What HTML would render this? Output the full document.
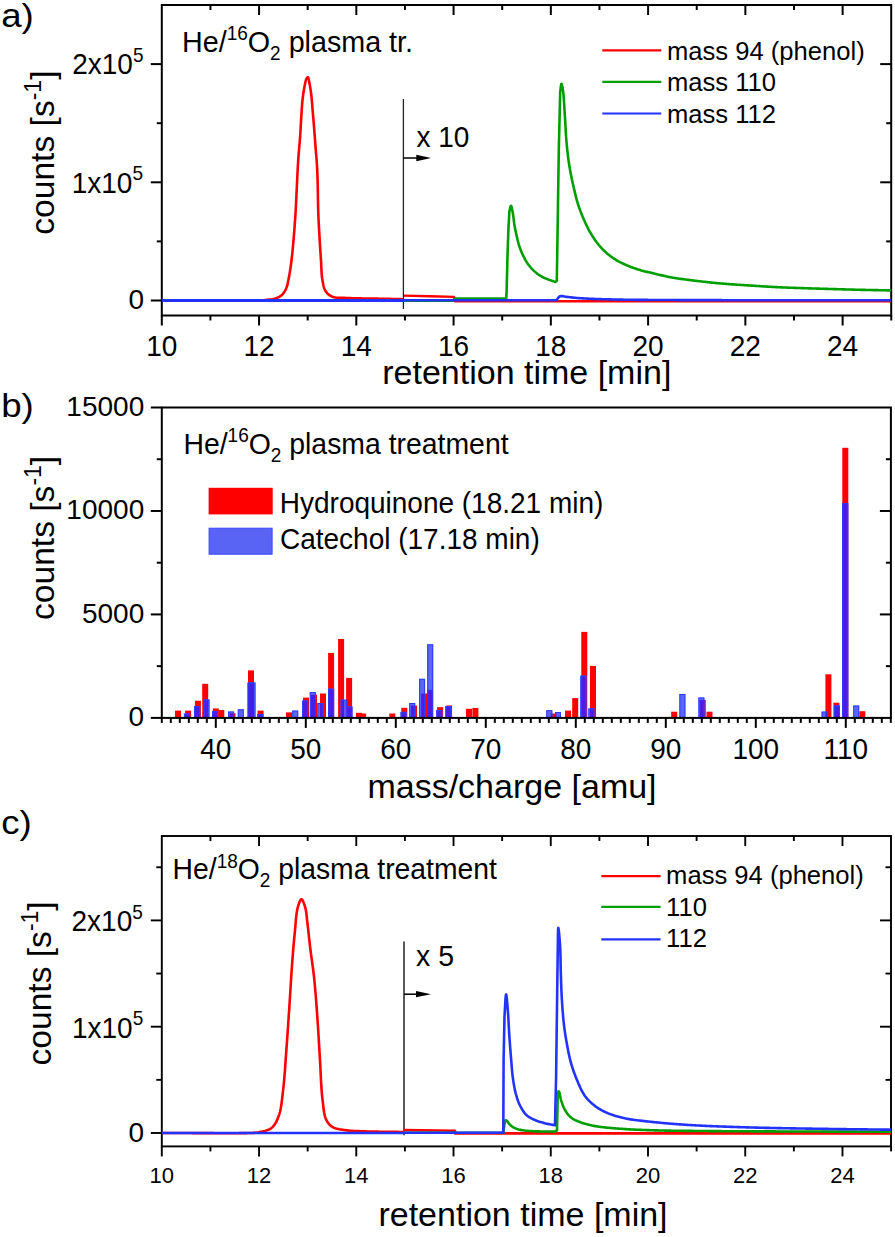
<!DOCTYPE html>
<html><head><meta charset="utf-8"><style>
html,body{margin:0;padding:0;background:#fff;overflow:hidden;}
svg{display:block;font-family:"Liberation Sans", sans-serif;}
</style></head><body>
<svg width="895" height="1237" viewBox="0 0 895 1237" font-family='"Liberation Sans", sans-serif'>
<line x1="161.80" y1="315.50" x2="161.80" y2="325.50" stroke="#000" stroke-width="2"/>
<line x1="210.43" y1="315.50" x2="210.43" y2="320.50" stroke="#000" stroke-width="2"/>
<line x1="210.43" y1="5.00" x2="210.43" y2="10.00" stroke="#000" stroke-width="2"/>
<line x1="259.06" y1="315.50" x2="259.06" y2="325.50" stroke="#000" stroke-width="2"/>
<line x1="259.06" y1="5.00" x2="259.06" y2="15.00" stroke="#000" stroke-width="2"/>
<line x1="307.69" y1="315.50" x2="307.69" y2="320.50" stroke="#000" stroke-width="2"/>
<line x1="307.69" y1="5.00" x2="307.69" y2="10.00" stroke="#000" stroke-width="2"/>
<line x1="356.32" y1="315.50" x2="356.32" y2="325.50" stroke="#000" stroke-width="2"/>
<line x1="356.32" y1="5.00" x2="356.32" y2="15.00" stroke="#000" stroke-width="2"/>
<line x1="404.95" y1="315.50" x2="404.95" y2="320.50" stroke="#000" stroke-width="2"/>
<line x1="404.95" y1="5.00" x2="404.95" y2="10.00" stroke="#000" stroke-width="2"/>
<line x1="453.58" y1="315.50" x2="453.58" y2="325.50" stroke="#000" stroke-width="2"/>
<line x1="453.58" y1="5.00" x2="453.58" y2="15.00" stroke="#000" stroke-width="2"/>
<line x1="502.21" y1="315.50" x2="502.21" y2="320.50" stroke="#000" stroke-width="2"/>
<line x1="502.21" y1="5.00" x2="502.21" y2="10.00" stroke="#000" stroke-width="2"/>
<line x1="550.84" y1="315.50" x2="550.84" y2="325.50" stroke="#000" stroke-width="2"/>
<line x1="550.84" y1="5.00" x2="550.84" y2="15.00" stroke="#000" stroke-width="2"/>
<line x1="599.47" y1="315.50" x2="599.47" y2="320.50" stroke="#000" stroke-width="2"/>
<line x1="599.47" y1="5.00" x2="599.47" y2="10.00" stroke="#000" stroke-width="2"/>
<line x1="648.10" y1="315.50" x2="648.10" y2="325.50" stroke="#000" stroke-width="2"/>
<line x1="648.10" y1="5.00" x2="648.10" y2="15.00" stroke="#000" stroke-width="2"/>
<line x1="696.73" y1="315.50" x2="696.73" y2="320.50" stroke="#000" stroke-width="2"/>
<line x1="696.73" y1="5.00" x2="696.73" y2="10.00" stroke="#000" stroke-width="2"/>
<line x1="745.36" y1="315.50" x2="745.36" y2="325.50" stroke="#000" stroke-width="2"/>
<line x1="745.36" y1="5.00" x2="745.36" y2="15.00" stroke="#000" stroke-width="2"/>
<line x1="793.99" y1="315.50" x2="793.99" y2="320.50" stroke="#000" stroke-width="2"/>
<line x1="793.99" y1="5.00" x2="793.99" y2="10.00" stroke="#000" stroke-width="2"/>
<line x1="842.62" y1="315.50" x2="842.62" y2="325.50" stroke="#000" stroke-width="2"/>
<line x1="842.62" y1="5.00" x2="842.62" y2="15.00" stroke="#000" stroke-width="2"/>
<line x1="891.25" y1="315.50" x2="891.25" y2="320.50" stroke="#000" stroke-width="2"/>
<line x1="150.80" y1="300.50" x2="161.80" y2="300.50" stroke="#000" stroke-width="2"/>
<line x1="891.20" y1="300.50" x2="880.20" y2="300.50" stroke="#000" stroke-width="2"/>
<line x1="156.80" y1="241.40" x2="161.80" y2="241.40" stroke="#000" stroke-width="2"/>
<line x1="891.20" y1="241.40" x2="886.20" y2="241.40" stroke="#000" stroke-width="2"/>
<line x1="150.80" y1="182.30" x2="161.80" y2="182.30" stroke="#000" stroke-width="2"/>
<line x1="891.20" y1="182.30" x2="880.20" y2="182.30" stroke="#000" stroke-width="2"/>
<line x1="156.80" y1="123.20" x2="161.80" y2="123.20" stroke="#000" stroke-width="2"/>
<line x1="891.20" y1="123.20" x2="886.20" y2="123.20" stroke="#000" stroke-width="2"/>
<line x1="150.80" y1="64.10" x2="161.80" y2="64.10" stroke="#000" stroke-width="2"/>
<line x1="891.20" y1="64.10" x2="880.20" y2="64.10" stroke="#000" stroke-width="2"/>
<rect x="161.8" y="5.0" width="729.4000000000001" height="310.5" fill="none" stroke="#000" stroke-width="2"/>
<text transform="translate(161.80,355.80) scale(1.0,1.06)" font-size="28" text-anchor="middle" >10</text>
<text transform="translate(259.06,355.80) scale(1.0,1.06)" font-size="28" text-anchor="middle" >12</text>
<text transform="translate(356.32,355.80) scale(1.0,1.06)" font-size="28" text-anchor="middle" >14</text>
<text transform="translate(453.58,355.80) scale(1.0,1.06)" font-size="28" text-anchor="middle" >16</text>
<text transform="translate(550.84,355.80) scale(1.0,1.06)" font-size="28" text-anchor="middle" >18</text>
<text transform="translate(648.10,355.80) scale(1.0,1.06)" font-size="28" text-anchor="middle" >20</text>
<text transform="translate(745.36,355.80) scale(1.0,1.06)" font-size="28" text-anchor="middle" >22</text>
<text transform="translate(842.62,355.80) scale(1.0,1.06)" font-size="28" text-anchor="middle" >24</text>
<text transform="translate(144.10,308.80) scale(1.0,1.02)" font-size="28" text-anchor="end" >0</text>
<text transform="translate(143.00,192.50) scale(1,1.03)" font-size="28" text-anchor="end">1x10<tspan font-size="19" dy="-12.3">5</tspan></text>
<text transform="translate(143.50,74.30) scale(1,1.03)" font-size="28" text-anchor="end">2x10<tspan font-size="19" dy="-12.3">5</tspan></text>
<text x="526.80" y="383.50" font-size="34" text-anchor="middle" >retention time [min]</text>
<text transform="translate(54.0,152.6) rotate(-90)" font-size="33.6" text-anchor="middle">counts [s<tspan font-size="23" dy="-13.3">-1</tspan><tspan dy="13.3">]</tspan></text>
<text transform="translate(1.20,27.00) scale(1.11,1.0)" font-size="33" text-anchor="start" >a)</text>
<text transform="translate(182.00,51.80) scale(1,1.06)" font-size="28.7">He/<tspan font-size="19" dy="-11.0">16</tspan><tspan dy="11.0">O</tspan><tspan font-size="19" dy="7.5">2</tspan><tspan dy="-7.5"> plasma tr.</tspan></text>
<line x1="602.30" y1="50.30" x2="661.30" y2="50.30" stroke="#ff0000" stroke-width="2.2"/>
<text transform="translate(667.00,59.50) scale(1.0,1.03)" font-size="25.6" text-anchor="start" >mass 94 (phenol)</text>
<line x1="602.30" y1="81.90" x2="661.30" y2="81.90" stroke="#009e00" stroke-width="2.2"/>
<text transform="translate(667.00,91.00) scale(1.0,1.03)" font-size="25.6" text-anchor="start" >mass 110</text>
<line x1="602.30" y1="113.50" x2="661.30" y2="113.50" stroke="#2233ff" stroke-width="2.2"/>
<text transform="translate(667.00,122.50) scale(1.0,1.03)" font-size="25.6" text-anchor="start" >mass 112</text>
<line x1="403.40" y1="99.00" x2="403.40" y2="309.00" stroke="#222" stroke-width="1.3"/>
<line x1="403.40" y1="158.00" x2="418.00" y2="158.00" stroke="#000" stroke-width="1.5"/>
<path d="M416.3,154.8 L431,158 L416.3,161.2 Z" fill="#000"/>
<text transform="translate(416.40,146.60) scale(1.0,1.05)" font-size="28" text-anchor="start" >x 10</text>
<path d="M162.00,300.50 L163.01,300.50 L164.03,300.50 L165.06,300.50 L166.10,300.50 L167.15,300.50 L168.22,300.50 L169.29,300.50 L170.38,300.50 L171.47,300.51 L172.58,300.51 L173.69,300.51 L174.82,300.52 L175.95,300.52 L177.09,300.52 L178.23,300.53 L179.38,300.53 L180.54,300.54 L181.71,300.54 L182.88,300.54 L184.06,300.55 L185.24,300.56 L186.43,300.56 L187.62,300.57 L188.82,300.57 L190.02,300.58 L191.22,300.58 L192.43,300.59 L193.63,300.60 L194.84,300.60 L196.06,300.61 L197.27,300.61 L198.48,300.62 L199.70,300.63 L200.91,300.63 L202.13,300.64 L203.34,300.64 L204.55,300.65 L205.76,300.66 L206.97,300.66 L208.18,300.67 L209.39,300.68 L210.59,300.68 L211.79,300.69 L212.98,300.69 L214.17,300.70 L215.36,300.70 L216.54,300.71 L217.71,300.71 L218.88,300.72 L220.05,300.72 L221.21,300.73 L222.36,300.73 L223.50,300.74 L224.64,300.74 L225.77,300.74 L226.89,300.75 L228.00,300.75 L229.10,300.75 L230.19,300.75 L231.27,300.75 L232.34,300.76 L233.41,300.76 L234.46,300.76 L235.49,300.76 L236.52,300.76 L237.54,300.76 L238.54,300.76 L239.53,300.75 L240.50,300.75 L241.47,300.75 L242.41,300.75 L243.35,300.74 L244.26,300.74 L245.17,300.74 L246.06,300.73 L246.93,300.73 L247.78,300.72 L248.62,300.71 L249.44,300.71 L250.24,300.70 L251.03,300.69 L251.79,300.68 L252.54,300.67 L253.27,300.66 L253.98,300.65 L254.67,300.64 L255.34,300.63 L255.98,300.61 L256.61,300.60 L257.22,300.59 L257.80,300.57 L258.36,300.56 L258.90,300.54 L259.41,300.52 L259.91,300.50 L260.37,300.48 L260.82,300.46 L261.24,300.44 L261.63,300.42 L262.00,300.40 L263.58,300.27 L264.65,300.13 L265.58,299.97 L266.70,299.80 L267.61,299.70 L268.58,299.61 L269.59,299.52 L270.63,299.42 L271.68,299.31 L272.72,299.15 L273.73,298.96 L274.70,298.70 L275.74,298.36 L276.78,297.98 L277.80,297.56 L278.80,297.09 L279.75,296.56 L280.66,295.96 L281.50,295.30 L282.21,294.63 L282.87,293.91 L283.50,293.13 L284.09,292.30 L284.64,291.42 L285.16,290.51 L285.64,289.57 L286.10,288.60 L286.45,287.75 L286.77,286.88 L287.06,285.98 L287.31,285.05 L287.55,284.10 L287.77,283.12 L287.98,282.12 L288.18,281.10 L288.38,280.05 L288.58,278.99 L288.80,277.90 L288.98,276.99 L289.16,276.05 L289.33,275.09 L289.51,274.11 L289.68,273.12 L289.84,272.10 L290.01,271.07 L290.17,270.03 L290.33,268.98 L290.49,267.92 L290.64,266.85 L290.79,265.78 L290.94,264.70 L291.08,263.62 L291.22,262.54 L291.36,261.47 L291.50,260.40 L291.62,259.43 L291.74,258.46 L291.85,257.49 L291.96,256.52 L292.07,255.55 L292.17,254.57 L292.28,253.59 L292.38,252.60 L292.48,251.62 L292.57,250.62 L292.67,249.62 L292.76,248.62 L292.85,247.61 L292.95,246.59 L293.04,245.56 L293.13,244.53 L293.22,243.49 L293.31,242.43 L293.41,241.37 L293.50,240.30 L293.58,239.34 L293.67,238.36 L293.75,237.37 L293.83,236.37 L293.92,235.37 L294.00,234.35 L294.08,233.32 L294.16,232.29 L294.25,231.25 L294.33,230.20 L294.41,229.15 L294.49,228.10 L294.57,227.04 L294.65,225.99 L294.72,224.93 L294.80,223.87 L294.88,222.81 L294.95,221.76 L295.02,220.71 L295.10,219.66 L295.17,218.61 L295.24,217.58 L295.30,216.54 L295.37,215.52 L295.44,214.51 L295.50,213.50 L295.57,212.44 L295.63,211.39 L295.69,210.34 L295.75,209.31 L295.80,208.28 L295.86,207.25 L295.91,206.23 L295.96,205.21 L296.01,204.20 L296.06,203.19 L296.11,202.17 L296.16,201.16 L296.20,200.14 L296.25,199.12 L296.30,198.10 L296.35,197.08 L296.39,196.05 L296.44,195.01 L296.49,193.97 L296.54,192.91 L296.59,191.85 L296.65,190.78 L296.70,189.70 L296.75,188.74 L296.80,187.77 L296.84,186.79 L296.89,185.81 L296.94,184.81 L296.99,183.81 L297.03,182.81 L297.08,181.80 L297.13,180.78 L297.18,179.76 L297.23,178.74 L297.27,177.72 L297.32,176.69 L297.37,175.66 L297.42,174.63 L297.47,173.60 L297.52,172.57 L297.57,171.55 L297.63,170.52 L297.68,169.50 L297.73,168.48 L297.79,167.46 L297.84,166.45 L297.90,165.44 L297.96,164.44 L298.02,163.44 L298.08,162.45 L298.14,161.47 L298.20,160.50 L298.27,159.46 L298.34,158.41 L298.42,157.37 L298.50,156.32 L298.58,155.28 L298.66,154.24 L298.74,153.20 L298.83,152.16 L298.91,151.12 L299.00,150.09 L299.09,149.06 L299.17,148.04 L299.26,147.02 L299.35,146.01 L299.43,145.00 L299.52,144.00 L299.60,143.01 L299.69,142.03 L299.77,141.05 L299.85,140.08 L299.92,139.13 L300.00,138.18 L300.07,137.24 L300.14,136.31 L300.20,135.40 L300.27,134.31 L300.34,133.25 L300.41,132.21 L300.47,131.18 L300.53,130.17 L300.58,129.18 L300.64,128.20 L300.69,127.22 L300.74,126.25 L300.79,125.28 L300.84,124.31 L300.90,123.33 L300.95,122.35 L301.01,121.36 L301.07,120.35 L301.13,119.34 L301.20,118.30 L301.26,117.33 L301.33,116.34 L301.39,115.33 L301.45,114.31 L301.52,113.29 L301.58,112.25 L301.65,111.21 L301.71,110.17 L301.78,109.12 L301.85,108.08 L301.92,107.04 L301.99,106.00 L302.07,104.98 L302.15,103.96 L302.23,102.96 L302.32,101.97 L302.41,100.99 L302.50,100.04 L302.60,99.11 L302.70,98.20 L302.84,97.08 L302.98,95.98 L303.13,94.88 L303.28,93.79 L303.44,92.72 L303.61,91.67 L303.78,90.64 L303.95,89.63 L304.12,88.66 L304.29,87.71 L304.46,86.80 L304.63,85.93 L304.80,85.10 L305.03,83.92 L305.26,82.79 L305.48,81.72 L305.72,80.74 L305.99,79.86 L306.30,79.10 L307.04,77.79 L307.80,77.20 L308.10,77.48 L308.38,78.11 L308.65,79.04 L308.90,80.17 L309.14,81.42 L309.37,82.71 L309.59,83.96 L309.80,85.10 L309.98,86.04 L310.15,86.98 L310.32,87.92 L310.47,88.88 L310.62,89.85 L310.76,90.84 L310.90,91.86 L311.03,92.91 L311.17,93.98 L311.30,95.10 L311.40,95.99 L311.50,96.90 L311.60,97.84 L311.69,98.80 L311.78,99.78 L311.87,100.78 L311.96,101.79 L312.04,102.81 L312.13,103.85 L312.21,104.89 L312.29,105.94 L312.38,106.99 L312.46,108.05 L312.54,109.09 L312.63,110.14 L312.71,111.17 L312.80,112.20 L312.88,113.19 L312.97,114.18 L313.05,115.18 L313.14,116.17 L313.22,117.16 L313.31,118.16 L313.39,119.16 L313.47,120.16 L313.56,121.16 L313.64,122.16 L313.72,123.17 L313.81,124.18 L313.89,125.19 L313.97,126.20 L314.05,127.22 L314.14,128.24 L314.22,129.27 L314.30,130.30 L314.38,131.29 L314.45,132.29 L314.53,133.31 L314.61,134.33 L314.69,135.37 L314.76,136.41 L314.84,137.46 L314.92,138.51 L314.99,139.56 L315.07,140.60 L315.15,141.64 L315.22,142.67 L315.30,143.70 L315.37,144.71 L315.44,145.71 L315.52,146.69 L315.59,147.65 L315.66,148.59 L315.73,149.51 L315.80,150.40 L315.89,151.51 L315.98,152.57 L316.07,153.59 L316.16,154.58 L316.24,155.54 L316.33,156.50 L316.41,157.45 L316.49,158.41 L316.57,159.39 L316.65,160.39 L316.73,161.42 L316.80,162.50 L316.86,163.44 L316.92,164.38 L316.97,165.32 L317.02,166.28 L317.07,167.24 L317.12,168.21 L317.17,169.19 L317.22,170.19 L317.27,171.20 L317.31,172.23 L317.35,173.28 L317.40,174.34 L317.44,175.43 L317.48,176.53 L317.52,177.66 L317.56,178.82 L317.60,180.00 L317.63,180.86 L317.65,181.75 L317.68,182.65 L317.70,183.58 L317.72,184.52 L317.74,185.48 L317.76,186.46 L317.78,187.45 L317.80,188.46 L317.82,189.48 L317.83,190.51 L317.85,191.55 L317.87,192.59 L317.88,193.65 L317.90,194.71 L317.91,195.78 L317.93,196.85 L317.95,197.92 L317.96,198.99 L317.98,200.07 L318.00,201.14 L318.02,202.21 L318.04,203.28 L318.06,204.34 L318.08,205.40 L318.10,206.45 L318.12,207.49 L318.15,208.52 L318.18,209.55 L318.20,210.55 L318.23,211.55 L318.27,212.53 L318.30,213.50 L318.34,214.59 L318.38,215.67 L318.43,216.75 L318.47,217.83 L318.52,218.90 L318.57,219.97 L318.62,221.03 L318.67,222.09 L318.73,223.15 L318.78,224.20 L318.84,225.25 L318.89,226.29 L318.95,227.33 L319.00,228.36 L319.06,229.39 L319.12,230.41 L319.18,231.43 L319.24,232.44 L319.30,233.44 L319.35,234.44 L319.41,235.43 L319.47,236.42 L319.53,237.40 L319.59,238.37 L319.64,239.34 L319.70,240.30 L319.76,241.37 L319.83,242.43 L319.89,243.48 L319.95,244.52 L320.02,245.54 L320.08,246.56 L320.15,247.58 L320.21,248.58 L320.28,249.58 L320.34,250.57 L320.41,251.56 L320.47,252.55 L320.54,253.53 L320.60,254.51 L320.67,255.49 L320.74,256.47 L320.80,257.45 L320.87,258.43 L320.93,259.41 L321.00,260.40 L321.07,261.47 L321.13,262.54 L321.18,263.62 L321.23,264.70 L321.27,265.79 L321.31,266.88 L321.36,267.96 L321.40,269.04 L321.45,270.11 L321.50,271.18 L321.56,272.24 L321.63,273.28 L321.71,274.31 L321.80,275.33 L321.90,276.33 L322.02,277.31 L322.15,278.27 L322.30,279.20 L322.49,280.33 L322.69,281.46 L322.88,282.57 L323.09,283.68 L323.31,284.76 L323.55,285.81 L323.81,286.84 L324.11,287.83 L324.44,288.77 L324.81,289.67 L325.23,290.51 L325.70,291.30 L326.34,292.20 L327.04,293.03 L327.78,293.80 L328.58,294.50 L329.44,295.14 L330.37,295.72 L331.35,296.24 L332.40,296.70 L333.23,297.00 L334.11,297.24 L335.02,297.43 L335.96,297.57 L336.94,297.68 L337.96,297.75 L339.01,297.80 L340.09,297.83 L341.20,297.85 L342.35,297.87 L343.52,297.88 L344.72,297.91 L345.95,297.94 L347.20,298.00 L348.04,298.04 L348.91,298.08 L349.80,298.12 L350.72,298.16 L351.67,298.19 L352.63,298.22 L353.62,298.25 L354.63,298.28 L355.65,298.31 L356.69,298.33 L357.74,298.35 L358.81,298.38 L359.88,298.40 L360.97,298.41 L362.06,298.43 L363.16,298.45 L364.25,298.47 L365.36,298.48 L366.46,298.50 L367.56,298.51 L368.65,298.52 L369.75,298.54 L370.83,298.55 L371.91,298.57 L372.97,298.58 L374.02,298.60 L375.06,298.61 L376.09,298.63 L377.10,298.64 L378.09,298.66 L379.05,298.68 L380.00,298.70 L381.08,298.72 L382.15,298.75 L383.20,298.77 L384.24,298.79 L385.27,298.81 L386.29,298.84 L387.30,298.86 L388.30,298.88 L389.30,298.90 L390.28,298.92 L391.27,298.94 L392.24,298.97 L393.22,298.99 L394.19,299.01 L395.16,299.03 L396.13,299.05 L397.10,299.07 L398.08,299.09 L399.05,299.11 L400.03,299.14 L401.01,299.16 L402.00,299.18 L403.00,299.20" fill="none" stroke="#ff0000" stroke-width="2.6" stroke-linejoin="round" stroke-linecap="butt" />
<path d="M404.00,295.60 L430.00,296.20 L454.00,296.90 L455.00,301.30 L891.00,301.30" fill="none" stroke="#ff0000" stroke-width="2.4" stroke-linejoin="round" stroke-linecap="butt" />
<path d="M404.00,300.60 L453.00,300.60 L455.00,298.60 L506.20,298.30 L506.60,292.30 L507.50,255.10 L508.50,227.20 L509.40,211.40 L509.72,210.10 L510.04,208.62 L510.36,207.23 L510.68,206.20 L511.00,205.80 L511.29,206.11 L511.58,206.92 L511.87,208.09 L512.16,209.48 L512.44,210.93 L512.70,212.30 L512.86,213.15 L513.01,214.06 L513.15,215.01 L513.28,216.00 L513.41,217.01 L513.54,218.05 L513.66,219.11 L513.79,220.17 L513.92,221.23 L514.05,222.28 L514.19,223.31 L514.34,224.32 L514.50,225.30 L514.69,226.36 L514.88,227.41 L515.08,228.45 L515.28,229.49 L515.49,230.51 L515.70,231.53 L515.91,232.55 L516.13,233.55 L516.35,234.54 L516.58,235.53 L516.80,236.50 L517.05,237.57 L517.29,238.63 L517.53,239.68 L517.78,240.71 L518.03,241.73 L518.30,242.75 L518.58,243.76 L518.88,244.78 L519.20,245.80 L519.51,246.74 L519.84,247.69 L520.18,248.63 L520.54,249.57 L520.91,250.51 L521.28,251.45 L521.67,252.37 L522.07,253.29 L522.48,254.20 L522.90,255.10 L523.36,256.06 L523.82,257.01 L524.30,257.96 L524.78,258.89 L525.28,259.82 L525.80,260.73 L526.34,261.63 L526.91,262.52 L527.50,263.40 L528.14,264.29 L528.80,265.17 L529.49,266.04 L530.20,266.90 L530.93,267.74 L531.67,268.57 L532.44,269.37 L533.21,270.15 L534.00,270.90 L534.78,271.61 L535.58,272.30 L536.40,272.97 L537.23,273.63 L538.07,274.26 L538.92,274.86 L539.78,275.44 L540.64,275.98 L541.50,276.50 L542.41,277.00 L543.33,277.45 L544.26,277.87 L545.20,278.27 L546.13,278.64 L547.07,279.00 L547.99,279.35 L548.90,279.70 L550.00,280.12 L551.09,280.51 L552.17,280.89 L553.25,281.26 L554.32,281.62 L555.40,282.00 L556.80,281.00 L557.60,230.00 L558.80,150.00 L560.20,92.00 L560.36,90.88 L560.52,89.60 L560.67,88.26 L560.83,86.94 L560.98,85.76 L561.15,84.79 L561.32,84.14 L561.50,83.90 L561.74,84.17 L561.99,84.93 L562.25,86.05 L562.52,87.42 L562.77,88.91 L563.00,90.40 L563.10,91.09 L563.19,91.83 L563.28,92.61 L563.37,93.44 L563.46,94.30 L563.54,95.21 L563.62,96.14 L563.69,97.11 L563.77,98.10 L563.84,99.12 L563.91,100.16 L563.98,101.22 L564.05,102.30 L564.11,103.39 L564.18,104.49 L564.25,105.60 L564.31,106.72 L564.37,107.83 L564.44,108.95 L564.50,110.06 L564.57,111.17 L564.63,112.26 L564.70,113.35 L564.76,114.42 L564.83,115.47 L564.90,116.50 L564.97,117.52 L565.04,118.54 L565.10,119.57 L565.16,120.60 L565.22,121.64 L565.28,122.68 L565.34,123.72 L565.40,124.77 L565.46,125.81 L565.52,126.86 L565.58,127.91 L565.64,128.96 L565.69,130.01 L565.75,131.06 L565.81,132.11 L565.88,133.15 L565.94,134.19 L566.00,135.23 L566.07,136.26 L566.14,137.29 L566.21,138.31 L566.28,139.33 L566.36,140.34 L566.44,141.34 L566.52,142.34 L566.61,143.32 L566.70,144.30 L566.80,145.37 L566.91,146.44 L567.01,147.50 L567.12,148.55 L567.23,149.60 L567.35,150.65 L567.46,151.69 L567.58,152.72 L567.70,153.75 L567.82,154.78 L567.95,155.80 L568.08,156.81 L568.21,157.82 L568.34,158.83 L568.47,159.83 L568.61,160.82 L568.75,161.81 L568.90,162.80 L569.04,163.78 L569.19,164.76 L569.34,165.73 L569.50,166.70 L569.68,167.77 L569.86,168.84 L570.04,169.89 L570.23,170.94 L570.42,171.98 L570.62,173.01 L570.82,174.03 L571.02,175.05 L571.22,176.07 L571.43,177.09 L571.64,178.10 L571.86,179.11 L572.07,180.12 L572.29,181.13 L572.52,182.14 L572.74,183.16 L572.97,184.18 L573.20,185.20 L573.42,186.18 L573.65,187.17 L573.87,188.16 L574.10,189.16 L574.33,190.16 L574.56,191.16 L574.80,192.16 L575.03,193.16 L575.27,194.15 L575.52,195.15 L575.76,196.14 L576.02,197.12 L576.27,198.10 L576.53,199.07 L576.79,200.04 L577.06,201.00 L577.34,201.94 L577.62,202.88 L577.90,203.80 L578.23,204.85 L578.57,205.89 L578.91,206.91 L579.26,207.92 L579.61,208.92 L579.97,209.92 L580.34,210.90 L580.71,211.88 L581.08,212.86 L581.47,213.83 L581.86,214.80 L582.26,215.77 L582.66,216.74 L583.08,217.72 L583.50,218.70 L583.91,219.64 L584.33,220.59 L584.75,221.54 L585.18,222.49 L585.62,223.44 L586.06,224.38 L586.51,225.33 L586.96,226.27 L587.43,227.21 L587.90,228.15 L588.37,229.08 L588.86,230.00 L589.36,230.91 L589.86,231.82 L590.38,232.71 L590.90,233.60 L591.46,234.52 L592.02,235.43 L592.60,236.34 L593.18,237.25 L593.77,238.14 L594.37,239.04 L594.98,239.92 L595.60,240.79 L596.23,241.66 L596.86,242.51 L597.51,243.36 L598.17,244.19 L598.84,245.01 L599.51,245.81 L600.20,246.60 L600.88,247.36 L601.56,248.10 L602.26,248.84 L602.96,249.56 L603.68,250.28 L604.40,250.99 L605.13,251.68 L605.87,252.36 L606.62,253.03 L607.38,253.69 L608.15,254.34 L608.92,254.98 L609.71,255.60 L610.50,256.21 L611.30,256.80 L612.17,257.42 L613.04,258.02 L613.93,258.60 L614.83,259.17 L615.74,259.73 L616.66,260.27 L617.59,260.79 L618.53,261.31 L619.47,261.81 L620.43,262.31 L621.39,262.79 L622.35,263.27 L623.32,263.74 L624.30,264.20 L625.25,264.64 L626.21,265.06 L627.18,265.48 L628.16,265.89 L629.14,266.29 L630.14,266.68 L631.14,267.06 L632.14,267.43 L633.15,267.79 L634.16,268.15 L635.17,268.49 L636.18,268.83 L637.19,269.16 L638.20,269.48 L639.20,269.80 L640.18,270.10 L641.17,270.38 L642.15,270.66 L643.13,270.92 L644.11,271.17 L645.10,271.41 L646.08,271.65 L647.07,271.88 L648.06,272.11 L649.06,272.34 L650.06,272.57 L651.06,272.79 L652.07,273.03 L653.08,273.26 L654.10,273.50 L655.05,273.73 L656.01,273.96 L656.97,274.19 L657.94,274.43 L658.91,274.66 L659.88,274.90 L660.85,275.13 L661.83,275.37 L662.82,275.60 L663.80,275.83 L664.79,276.05 L665.78,276.27 L666.78,276.49 L667.78,276.70 L668.78,276.91 L669.79,277.11 L670.80,277.30 L671.80,277.48 L672.79,277.66 L673.78,277.83 L674.77,277.99 L675.77,278.15 L676.76,278.30 L677.75,278.45 L678.75,278.59 L679.76,278.74 L680.78,278.88 L681.80,279.02 L682.84,279.15 L683.89,279.29 L684.96,279.43 L686.04,279.57 L687.14,279.71 L688.26,279.85 L689.40,280.00 L690.31,280.12 L691.23,280.23 L692.16,280.35 L693.11,280.47 L694.07,280.59 L695.04,280.71 L696.02,280.83 L697.02,280.95 L698.02,281.07 L699.03,281.19 L700.05,281.31 L701.08,281.43 L702.11,281.55 L703.15,281.67 L704.19,281.79 L705.24,281.91 L706.28,282.02 L707.34,282.14 L708.39,282.25 L709.44,282.37 L710.49,282.48 L711.54,282.59 L712.59,282.70 L713.64,282.80 L714.68,282.91 L715.72,283.01 L716.75,283.11 L717.78,283.21 L718.80,283.30 L719.82,283.39 L720.84,283.48 L721.86,283.57 L722.87,283.65 L723.89,283.74 L724.91,283.82 L725.93,283.90 L726.95,283.97 L727.97,284.05 L729.00,284.13 L730.02,284.20 L731.04,284.27 L732.06,284.34 L733.08,284.41 L734.10,284.48 L735.12,284.55 L736.14,284.61 L737.16,284.68 L738.19,284.74 L739.21,284.81 L740.23,284.88 L741.25,284.94 L742.27,285.01 L743.29,285.07 L744.32,285.14 L745.34,285.20 L746.36,285.27 L747.38,285.33 L748.40,285.40 L749.42,285.47 L750.44,285.53 L751.46,285.60 L752.48,285.67 L753.50,285.74 L754.52,285.80 L755.54,285.87 L756.56,285.94 L757.58,286.00 L758.60,286.07 L759.62,286.14 L760.64,286.20 L761.66,286.27 L762.68,286.33 L763.71,286.39 L764.73,286.46 L765.75,286.52 L766.77,286.58 L767.79,286.64 L768.81,286.70 L769.83,286.76 L770.85,286.82 L771.87,286.88 L772.89,286.93 L773.91,286.99 L774.94,287.04 L775.96,287.10 L776.98,287.15 L778.00,287.20 L779.02,287.25 L780.05,287.30 L781.07,287.34 L782.09,287.39 L783.12,287.43 L784.14,287.48 L785.17,287.52 L786.19,287.56 L787.21,287.60 L788.24,287.64 L789.26,287.68 L790.29,287.72 L791.31,287.75 L792.34,287.79 L793.36,287.82 L794.39,287.86 L795.41,287.89 L796.43,287.93 L797.46,287.96 L798.48,288.00 L799.51,288.03 L800.53,288.06 L801.56,288.10 L802.58,288.13 L803.61,288.16 L804.63,288.20 L805.65,288.23 L806.68,288.27 L807.70,288.30 L808.72,288.33 L809.75,288.37 L810.77,288.40 L811.80,288.44 L812.82,288.47 L813.85,288.50 L814.88,288.53 L815.91,288.57 L816.94,288.60 L817.97,288.63 L819.00,288.66 L820.03,288.69 L821.06,288.73 L822.08,288.76 L823.11,288.79 L824.14,288.82 L825.16,288.85 L826.19,288.88 L827.21,288.91 L828.23,288.94 L829.25,288.97 L830.26,289.00 L831.28,289.03 L832.29,289.06 L833.30,289.09 L834.30,289.11 L835.30,289.14 L836.30,289.17 L837.30,289.20 L838.35,289.23 L839.40,289.26 L840.44,289.29 L841.48,289.32 L842.52,289.35 L843.55,289.38 L844.58,289.40 L845.61,289.43 L846.64,289.46 L847.66,289.49 L848.69,289.52 L849.71,289.54 L850.73,289.57 L851.75,289.60 L852.76,289.63 L853.78,289.65 L854.80,289.68 L855.82,289.70 L856.84,289.73 L857.86,289.76 L858.88,289.78 L859.90,289.80 L860.92,289.83 L861.94,289.85 L862.97,289.88 L864.00,289.90 L865.00,289.92 L866.00,289.94 L866.99,289.96 L867.99,289.99 L868.99,290.01 L869.99,290.02 L870.99,290.04 L871.99,290.06 L872.99,290.08 L873.99,290.10 L874.99,290.12 L875.99,290.14 L876.99,290.15 L877.99,290.17 L878.99,290.19 L879.99,290.21 L880.99,290.22 L881.99,290.24 L883.00,290.26 L884.00,290.28 L885.00,290.29 L886.00,290.31 L887.00,290.33 L888.00,290.35 L889.00,290.36 L890.00,290.38 L891.00,290.40" fill="none" stroke="#009e00" stroke-width="2.6" stroke-linejoin="round" stroke-linecap="butt" />
<path d="M161.80,300.50 L404.00,300.50" fill="none" stroke="#2233ff" stroke-width="2.8" stroke-linejoin="round" stroke-linecap="butt" />
<path d="M404.00,300.30 L508.00,300.30 L556.40,300.20 L557.11,299.33 L557.79,298.39 L558.48,297.48 L559.24,296.71 L560.10,296.20 L561.11,296.00 L562.19,296.08 L563.36,296.31 L564.63,296.59 L566.00,296.80 L566.80,296.88 L567.64,296.97 L568.51,297.07 L569.41,297.17 L570.34,297.28 L571.30,297.38 L572.30,297.49 L573.32,297.60 L574.36,297.71 L575.44,297.82 L576.54,297.92 L577.67,298.02 L578.82,298.11 L580.00,298.20 L580.82,298.26 L581.65,298.31 L582.51,298.36 L583.37,298.42 L584.26,298.47 L585.15,298.51 L586.06,298.56 L586.99,298.61 L587.93,298.65 L588.88,298.70 L589.84,298.74 L590.82,298.78 L591.81,298.82 L592.80,298.86 L593.81,298.90 L594.83,298.94 L595.87,298.98 L596.91,299.01 L597.96,299.05 L599.01,299.08 L600.08,299.12 L601.16,299.15 L602.24,299.18 L603.33,299.22 L604.43,299.25 L605.53,299.28 L606.64,299.31 L607.75,299.34 L608.88,299.37 L610.00,299.40 L610.87,299.42 L611.74,299.44 L612.60,299.46 L613.46,299.49 L614.32,299.50 L615.18,299.52 L616.03,299.54 L616.89,299.56 L617.75,299.58 L618.60,299.59 L619.46,299.61 L620.32,299.63 L621.18,299.64 L622.05,299.65 L622.92,299.67 L623.79,299.68 L624.67,299.70 L625.55,299.71 L626.44,299.72 L627.33,299.73 L628.23,299.74 L629.14,299.76 L630.06,299.77 L630.99,299.78 L631.92,299.79 L632.87,299.80 L633.83,299.81 L634.79,299.82 L635.77,299.83 L636.76,299.83 L637.77,299.84 L638.78,299.85 L639.81,299.86 L640.86,299.87 L641.92,299.88 L642.99,299.89 L644.08,299.89 L645.19,299.90 L646.32,299.91 L647.46,299.92 L648.62,299.93 L649.80,299.93 L651.00,299.94 L652.22,299.95 L653.46,299.96 L654.73,299.97 L656.01,299.97 L657.32,299.98 L658.65,299.99 L660.00,300.00 L660.64,300.00 L661.28,300.01 L661.93,300.01 L662.59,300.02 L663.25,300.02 L663.92,300.02 L664.60,300.03 L665.28,300.03 L665.97,300.03 L666.66,300.04 L667.36,300.04 L668.06,300.05 L668.77,300.05 L669.49,300.05 L670.21,300.06 L670.94,300.06 L671.68,300.06 L672.41,300.06 L673.16,300.07 L673.91,300.07 L674.67,300.07 L675.43,300.08 L676.19,300.08 L676.97,300.08 L677.74,300.09 L678.53,300.09 L679.31,300.09 L680.11,300.09 L680.91,300.10 L681.71,300.10 L682.52,300.10 L683.33,300.10 L684.15,300.11 L684.98,300.11 L685.80,300.11 L686.64,300.11 L687.48,300.12 L688.32,300.12 L689.17,300.12 L690.02,300.12 L690.88,300.12 L691.74,300.13 L692.61,300.13 L693.48,300.13 L694.35,300.13 L695.23,300.13 L696.12,300.14 L697.01,300.14 L697.90,300.14 L698.80,300.14 L699.70,300.14 L700.60,300.15 L701.51,300.15 L702.43,300.15 L703.35,300.15 L704.27,300.15 L705.20,300.15 L706.13,300.15 L707.06,300.16 L708.00,300.16 L708.94,300.16 L709.89,300.16 L710.84,300.16 L711.79,300.16 L712.75,300.16 L713.71,300.17 L714.67,300.17 L715.64,300.17 L716.61,300.17 L717.59,300.17 L718.57,300.17 L719.55,300.17 L720.54,300.17 L721.52,300.17 L722.52,300.18 L723.51,300.18 L724.51,300.18 L725.51,300.18 L726.52,300.18 L727.52,300.18 L728.53,300.18 L729.55,300.18 L730.57,300.18 L731.59,300.18 L732.61,300.18 L733.63,300.18 L734.66,300.18 L735.69,300.18 L736.73,300.19 L737.76,300.19 L738.80,300.19 L739.84,300.19 L740.89,300.19 L741.93,300.19 L742.98,300.19 L744.03,300.19 L745.09,300.19 L746.14,300.19 L747.20,300.19 L748.26,300.19 L749.33,300.19 L750.39,300.19 L751.46,300.19 L752.53,300.19 L753.60,300.19 L754.67,300.19 L755.75,300.19 L756.82,300.19 L757.90,300.19 L758.98,300.19 L760.07,300.19 L761.15,300.19 L762.24,300.19 L763.33,300.19 L764.42,300.19 L765.51,300.19 L766.60,300.19 L767.69,300.19 L768.79,300.19 L769.89,300.19 L770.99,300.19 L772.09,300.19 L773.19,300.19 L774.29,300.19 L775.39,300.19 L776.50,300.19 L777.60,300.19 L778.71,300.19 L779.82,300.19 L780.93,300.19 L782.04,300.19 L783.15,300.19 L784.26,300.19 L785.38,300.19 L786.49,300.19 L787.61,300.19 L788.72,300.19 L789.84,300.19 L790.95,300.19 L792.07,300.19 L793.19,300.19 L794.31,300.19 L795.43,300.19 L796.55,300.19 L797.67,300.19 L798.79,300.19 L799.91,300.19 L801.03,300.19 L802.15,300.19 L803.27,300.19 L804.39,300.19 L805.51,300.19 L806.63,300.19 L807.75,300.19 L808.88,300.19 L810.00,300.19 L811.12,300.19 L812.24,300.19 L813.36,300.19 L814.48,300.19 L815.60,300.19 L816.72,300.19 L817.84,300.19 L818.96,300.19 L820.08,300.19 L821.20,300.19 L822.32,300.19 L823.44,300.19 L824.56,300.19 L825.67,300.19 L826.79,300.19 L827.90,300.19 L829.02,300.18 L830.13,300.18 L831.25,300.18 L832.36,300.18 L833.47,300.18 L834.58,300.18 L835.69,300.18 L836.80,300.18 L837.91,300.18 L839.01,300.18 L840.12,300.18 L841.22,300.18 L842.32,300.18 L843.42,300.18 L844.52,300.18 L845.62,300.18 L846.72,300.18 L847.82,300.18 L848.91,300.18 L850.00,300.18 L851.09,300.18 L852.18,300.18 L853.27,300.18 L854.36,300.18 L855.44,300.18 L856.53,300.18 L857.61,300.18 L858.69,300.18 L859.76,300.18 L860.84,300.19 L861.91,300.19 L862.98,300.19 L864.05,300.19 L865.12,300.19 L866.18,300.19 L867.25,300.19 L868.31,300.19 L869.37,300.19 L870.42,300.19 L871.48,300.19 L872.53,300.19 L873.58,300.19 L874.62,300.19 L875.67,300.19 L876.71,300.19 L877.75,300.19 L878.78,300.19 L879.82,300.19 L880.85,300.19 L881.88,300.19 L882.90,300.19 L883.92,300.19 L884.94,300.20 L885.96,300.20 L886.98,300.20 L887.99,300.20 L888.99,300.20 L890.00,300.20 L891.00,300.20" fill="none" stroke="#2233ff" stroke-width="2.6" stroke-linejoin="round" stroke-linecap="butt" />
<rect x="175.00" y="710.60" width="6" height="7.30" fill="#ff0000"/>
<rect x="185.10" y="710.60" width="6" height="7.30" fill="#ff0000"/>
<rect x="194.90" y="700.70" width="6" height="17.20" fill="#ff0000"/>
<rect x="202.20" y="683.80" width="6" height="34.10" fill="#ff0000"/>
<rect x="212.80" y="708.40" width="6" height="9.50" fill="#ff0000"/>
<rect x="218.30" y="710.00" width="6" height="7.90" fill="#ff0000"/>
<rect x="229.50" y="713.30" width="6" height="4.60" fill="#ff0000"/>
<rect x="248.00" y="670.40" width="6" height="47.50" fill="#ff0000"/>
<rect x="257.60" y="710.60" width="6" height="7.30" fill="#ff0000"/>
<rect x="286.00" y="712.40" width="6" height="5.50" fill="#ff0000"/>
<rect x="303.00" y="697.60" width="6" height="20.30" fill="#ff0000"/>
<rect x="311.00" y="694.80" width="6" height="23.10" fill="#ff0000"/>
<rect x="320.00" y="693.50" width="6" height="24.40" fill="#ff0000"/>
<rect x="328.10" y="652.90" width="6" height="65.00" fill="#ff0000"/>
<rect x="338.10" y="639.00" width="6" height="78.90" fill="#ff0000"/>
<rect x="346.10" y="677.90" width="6" height="40.00" fill="#ff0000"/>
<rect x="356.00" y="712.80" width="6" height="5.10" fill="#ff0000"/>
<rect x="360.20" y="713.50" width="6" height="4.40" fill="#ff0000"/>
<rect x="389.30" y="713.50" width="6" height="4.40" fill="#ff0000"/>
<rect x="401.30" y="707.80" width="6" height="10.10" fill="#ff0000"/>
<rect x="411.00" y="705.50" width="6" height="12.40" fill="#ff0000"/>
<rect x="421.20" y="693.50" width="6" height="24.40" fill="#ff0000"/>
<rect x="427.00" y="689.90" width="6" height="28.00" fill="#ff0000"/>
<rect x="437.10" y="707.20" width="6" height="10.70" fill="#ff0000"/>
<rect x="446.10" y="705.50" width="6" height="12.40" fill="#ff0000"/>
<rect x="466.00" y="708.80" width="6" height="9.10" fill="#ff0000"/>
<rect x="472.40" y="707.90" width="6" height="10.00" fill="#ff0000"/>
<rect x="550.50" y="713.50" width="6" height="4.40" fill="#ff0000"/>
<rect x="565.00" y="710.60" width="6" height="7.30" fill="#ff0000"/>
<rect x="572.20" y="698.10" width="6" height="19.80" fill="#ff0000"/>
<rect x="581.30" y="631.90" width="6" height="86.00" fill="#ff0000"/>
<rect x="590.00" y="665.90" width="6" height="52.00" fill="#ff0000"/>
<rect x="671.20" y="711.70" width="6" height="6.20" fill="#ff0000"/>
<rect x="699.80" y="700.00" width="6" height="17.90" fill="#ff0000"/>
<rect x="706.50" y="711.70" width="6" height="6.20" fill="#ff0000"/>
<rect x="825.40" y="674.30" width="6" height="43.60" fill="#ff0000"/>
<rect x="833.40" y="702.70" width="6" height="15.20" fill="#ff0000"/>
<rect x="842.30" y="447.80" width="6" height="270.10" fill="#ff0000"/>
<rect x="859.30" y="711.20" width="6" height="6.70" fill="#ff0000"/>
<rect x="183.90" y="713.60" width="6" height="4.30" fill="#5c66f4"/>
<rect x="185.10" y="713.60" width="4.80" height="4.30" fill="#4a1ce6"/>
<rect x="184.40" y="714.10" width="5" height="3.80" fill="none" stroke="#2e3cff" stroke-width="1"/>
<rect x="194.10" y="706.10" width="6" height="11.80" fill="#5c66f4"/>
<rect x="194.90" y="706.10" width="5.20" height="11.80" fill="#4a1ce6"/>
<rect x="194.60" y="706.60" width="5" height="11.30" fill="none" stroke="#2e3cff" stroke-width="1"/>
<rect x="203.50" y="699.50" width="6" height="18.40" fill="#5c66f4"/>
<rect x="203.50" y="699.50" width="4.70" height="18.40" fill="#4a1ce6"/>
<rect x="204.00" y="700.00" width="5" height="17.90" fill="none" stroke="#2e3cff" stroke-width="1"/>
<rect x="212.00" y="711.10" width="6" height="6.80" fill="#5c66f4"/>
<rect x="212.80" y="711.10" width="5.20" height="6.80" fill="#4a1ce6"/>
<rect x="212.50" y="711.60" width="5" height="6.30" fill="none" stroke="#2e3cff" stroke-width="1"/>
<rect x="228.10" y="711.50" width="6" height="6.40" fill="#5c66f4"/>
<rect x="229.50" y="713.30" width="4.60" height="4.60" fill="#4a1ce6"/>
<rect x="228.60" y="712.00" width="5" height="5.90" fill="none" stroke="#2e3cff" stroke-width="1"/>
<rect x="237.80" y="709.30" width="6" height="8.60" fill="#5c66f4"/>
<rect x="238.30" y="709.80" width="5" height="8.10" fill="none" stroke="#2e3cff" stroke-width="1"/>
<rect x="247.50" y="682.50" width="8" height="35.40" fill="#5c66f4"/>
<rect x="248.00" y="682.50" width="6.00" height="35.40" fill="#4a1ce6"/>
<rect x="248.00" y="683.00" width="7" height="34.90" fill="none" stroke="#2e3cff" stroke-width="1"/>
<rect x="257.20" y="714.10" width="6" height="3.80" fill="#5c66f4"/>
<rect x="257.60" y="714.10" width="5.60" height="3.80" fill="#4a1ce6"/>
<rect x="257.70" y="714.60" width="5" height="3.30" fill="none" stroke="#2e3cff" stroke-width="1"/>
<rect x="292.20" y="710.60" width="6" height="7.30" fill="#5c66f4"/>
<rect x="292.70" y="711.10" width="5" height="6.80" fill="none" stroke="#2e3cff" stroke-width="1"/>
<rect x="302.10" y="700.60" width="6" height="17.30" fill="#5c66f4"/>
<rect x="303.00" y="700.60" width="5.10" height="17.30" fill="#4a1ce6"/>
<rect x="302.60" y="701.10" width="5" height="16.80" fill="none" stroke="#2e3cff" stroke-width="1"/>
<rect x="309.80" y="692.00" width="6" height="25.90" fill="#5c66f4"/>
<rect x="311.00" y="694.80" width="4.80" height="23.10" fill="#4a1ce6"/>
<rect x="310.30" y="692.50" width="5" height="25.40" fill="none" stroke="#2e3cff" stroke-width="1"/>
<rect x="317.30" y="703.00" width="6" height="14.90" fill="#5c66f4"/>
<rect x="320.00" y="703.00" width="3.30" height="14.90" fill="#4a1ce6"/>
<rect x="317.80" y="703.50" width="5" height="14.40" fill="none" stroke="#2e3cff" stroke-width="1"/>
<rect x="328.10" y="688.70" width="6" height="29.20" fill="#5c66f4"/>
<rect x="328.10" y="688.70" width="6.00" height="29.20" fill="#4a1ce6"/>
<rect x="328.60" y="689.20" width="5" height="28.70" fill="none" stroke="#2e3cff" stroke-width="1"/>
<rect x="340.70" y="699.70" width="6" height="18.20" fill="#5c66f4"/>
<rect x="340.70" y="699.70" width="3.40" height="18.20" fill="#4a1ce6"/>
<rect x="346.10" y="699.70" width="0.60" height="18.20" fill="#4a1ce6"/>
<rect x="341.20" y="700.20" width="5" height="17.70" fill="none" stroke="#2e3cff" stroke-width="1"/>
<rect x="346.50" y="706.50" width="6" height="11.40" fill="#5c66f4"/>
<rect x="346.50" y="706.50" width="5.60" height="11.40" fill="#4a1ce6"/>
<rect x="347.00" y="707.00" width="5" height="10.90" fill="none" stroke="#2e3cff" stroke-width="1"/>
<rect x="400.50" y="711.90" width="6" height="6.00" fill="#5c66f4"/>
<rect x="401.30" y="711.90" width="5.20" height="6.00" fill="#4a1ce6"/>
<rect x="401.00" y="712.40" width="5" height="5.50" fill="none" stroke="#2e3cff" stroke-width="1"/>
<rect x="409.20" y="703.00" width="6" height="14.90" fill="#5c66f4"/>
<rect x="411.00" y="705.50" width="4.20" height="12.40" fill="#4a1ce6"/>
<rect x="409.70" y="703.50" width="5" height="14.40" fill="none" stroke="#2e3cff" stroke-width="1"/>
<rect x="419.10" y="678.80" width="6" height="39.10" fill="#5c66f4"/>
<rect x="421.20" y="693.50" width="3.90" height="24.40" fill="#4a1ce6"/>
<rect x="419.60" y="679.30" width="5" height="38.60" fill="none" stroke="#2e3cff" stroke-width="1"/>
<rect x="427.20" y="644.30" width="6" height="73.60" fill="#5c66f4"/>
<rect x="427.20" y="689.90" width="5.80" height="28.00" fill="#4a1ce6"/>
<rect x="427.70" y="644.80" width="5" height="73.10" fill="none" stroke="#2e3cff" stroke-width="1"/>
<rect x="436.20" y="710.10" width="6" height="7.80" fill="#5c66f4"/>
<rect x="437.10" y="710.10" width="5.10" height="7.80" fill="#4a1ce6"/>
<rect x="436.70" y="710.60" width="5" height="7.30" fill="none" stroke="#2e3cff" stroke-width="1"/>
<rect x="445.20" y="706.10" width="6" height="11.80" fill="#5c66f4"/>
<rect x="446.10" y="706.10" width="5.10" height="11.80" fill="#4a1ce6"/>
<rect x="445.70" y="706.60" width="5" height="11.30" fill="none" stroke="#2e3cff" stroke-width="1"/>
<rect x="546.30" y="710.20" width="6" height="7.70" fill="#5c66f4"/>
<rect x="550.50" y="713.50" width="1.80" height="4.40" fill="#4a1ce6"/>
<rect x="546.80" y="710.70" width="5" height="7.20" fill="none" stroke="#2e3cff" stroke-width="1"/>
<rect x="555.00" y="712.00" width="6" height="5.90" fill="#5c66f4"/>
<rect x="555.00" y="713.50" width="1.50" height="4.40" fill="#4a1ce6"/>
<rect x="555.50" y="712.50" width="5" height="5.40" fill="none" stroke="#2e3cff" stroke-width="1"/>
<rect x="580.30" y="675.70" width="6" height="42.20" fill="#5c66f4"/>
<rect x="581.30" y="675.70" width="5.00" height="42.20" fill="#4a1ce6"/>
<rect x="580.80" y="676.20" width="5" height="41.70" fill="none" stroke="#2e3cff" stroke-width="1"/>
<rect x="588.30" y="708.50" width="6" height="9.40" fill="#5c66f4"/>
<rect x="590.00" y="708.50" width="4.30" height="9.40" fill="#4a1ce6"/>
<rect x="588.80" y="709.00" width="5" height="8.90" fill="none" stroke="#2e3cff" stroke-width="1"/>
<rect x="679.40" y="694.00" width="6" height="23.90" fill="#5c66f4"/>
<rect x="679.90" y="694.50" width="5" height="23.40" fill="none" stroke="#2e3cff" stroke-width="1"/>
<rect x="698.40" y="697.50" width="6" height="20.40" fill="#5c66f4"/>
<rect x="699.80" y="700.00" width="4.60" height="17.90" fill="#4a1ce6"/>
<rect x="698.90" y="698.00" width="5" height="19.90" fill="none" stroke="#2e3cff" stroke-width="1"/>
<rect x="821.60" y="711.60" width="6" height="6.30" fill="#5c66f4"/>
<rect x="825.40" y="711.60" width="2.20" height="6.30" fill="#4a1ce6"/>
<rect x="822.10" y="712.10" width="5" height="5.80" fill="none" stroke="#2e3cff" stroke-width="1"/>
<rect x="834.00" y="705.60" width="6" height="12.30" fill="#5c66f4"/>
<rect x="834.00" y="705.60" width="5.40" height="12.30" fill="#4a1ce6"/>
<rect x="834.50" y="706.10" width="5" height="11.80" fill="none" stroke="#2e3cff" stroke-width="1"/>
<rect x="842.20" y="503.10" width="6" height="214.80" fill="#5c66f4"/>
<rect x="842.30" y="503.10" width="5.90" height="214.80" fill="#4a1ce6"/>
<rect x="842.70" y="503.60" width="5" height="214.30" fill="none" stroke="#2e3cff" stroke-width="1"/>
<rect x="853.20" y="705.50" width="6" height="12.40" fill="#5c66f4"/>
<rect x="853.70" y="706.00" width="5" height="11.90" fill="none" stroke="#2e3cff" stroke-width="1"/>
<line x1="161.80" y1="717.90" x2="161.80" y2="722.90" stroke="#000" stroke-width="2"/>
<line x1="170.80" y1="717.90" x2="170.80" y2="722.90" stroke="#000" stroke-width="2"/>
<line x1="179.80" y1="717.90" x2="179.80" y2="722.90" stroke="#000" stroke-width="2"/>
<line x1="188.80" y1="717.90" x2="188.80" y2="722.90" stroke="#000" stroke-width="2"/>
<line x1="197.80" y1="717.90" x2="197.80" y2="722.90" stroke="#000" stroke-width="2"/>
<line x1="206.80" y1="717.90" x2="206.80" y2="722.90" stroke="#000" stroke-width="2"/>
<line x1="215.80" y1="717.90" x2="215.80" y2="727.90" stroke="#000" stroke-width="2"/>
<line x1="224.80" y1="717.90" x2="224.80" y2="722.90" stroke="#000" stroke-width="2"/>
<line x1="233.80" y1="717.90" x2="233.80" y2="722.90" stroke="#000" stroke-width="2"/>
<line x1="242.80" y1="717.90" x2="242.80" y2="722.90" stroke="#000" stroke-width="2"/>
<line x1="251.80" y1="717.90" x2="251.80" y2="722.90" stroke="#000" stroke-width="2"/>
<line x1="260.80" y1="717.90" x2="260.80" y2="722.90" stroke="#000" stroke-width="2"/>
<line x1="269.80" y1="717.90" x2="269.80" y2="722.90" stroke="#000" stroke-width="2"/>
<line x1="278.80" y1="717.90" x2="278.80" y2="722.90" stroke="#000" stroke-width="2"/>
<line x1="287.80" y1="717.90" x2="287.80" y2="722.90" stroke="#000" stroke-width="2"/>
<line x1="296.80" y1="717.90" x2="296.80" y2="722.90" stroke="#000" stroke-width="2"/>
<line x1="305.80" y1="717.90" x2="305.80" y2="727.90" stroke="#000" stroke-width="2"/>
<line x1="314.80" y1="717.90" x2="314.80" y2="722.90" stroke="#000" stroke-width="2"/>
<line x1="323.80" y1="717.90" x2="323.80" y2="722.90" stroke="#000" stroke-width="2"/>
<line x1="332.80" y1="717.90" x2="332.80" y2="722.90" stroke="#000" stroke-width="2"/>
<line x1="341.80" y1="717.90" x2="341.80" y2="722.90" stroke="#000" stroke-width="2"/>
<line x1="350.80" y1="717.90" x2="350.80" y2="722.90" stroke="#000" stroke-width="2"/>
<line x1="359.80" y1="717.90" x2="359.80" y2="722.90" stroke="#000" stroke-width="2"/>
<line x1="368.80" y1="717.90" x2="368.80" y2="722.90" stroke="#000" stroke-width="2"/>
<line x1="377.80" y1="717.90" x2="377.80" y2="722.90" stroke="#000" stroke-width="2"/>
<line x1="386.80" y1="717.90" x2="386.80" y2="722.90" stroke="#000" stroke-width="2"/>
<line x1="395.80" y1="717.90" x2="395.80" y2="727.90" stroke="#000" stroke-width="2"/>
<line x1="404.80" y1="717.90" x2="404.80" y2="722.90" stroke="#000" stroke-width="2"/>
<line x1="413.80" y1="717.90" x2="413.80" y2="722.90" stroke="#000" stroke-width="2"/>
<line x1="422.80" y1="717.90" x2="422.80" y2="722.90" stroke="#000" stroke-width="2"/>
<line x1="431.80" y1="717.90" x2="431.80" y2="722.90" stroke="#000" stroke-width="2"/>
<line x1="440.80" y1="717.90" x2="440.80" y2="722.90" stroke="#000" stroke-width="2"/>
<line x1="449.80" y1="717.90" x2="449.80" y2="722.90" stroke="#000" stroke-width="2"/>
<line x1="458.80" y1="717.90" x2="458.80" y2="722.90" stroke="#000" stroke-width="2"/>
<line x1="467.80" y1="717.90" x2="467.80" y2="722.90" stroke="#000" stroke-width="2"/>
<line x1="476.80" y1="717.90" x2="476.80" y2="722.90" stroke="#000" stroke-width="2"/>
<line x1="485.80" y1="717.90" x2="485.80" y2="727.90" stroke="#000" stroke-width="2"/>
<line x1="494.80" y1="717.90" x2="494.80" y2="722.90" stroke="#000" stroke-width="2"/>
<line x1="503.80" y1="717.90" x2="503.80" y2="722.90" stroke="#000" stroke-width="2"/>
<line x1="512.80" y1="717.90" x2="512.80" y2="722.90" stroke="#000" stroke-width="2"/>
<line x1="521.80" y1="717.90" x2="521.80" y2="722.90" stroke="#000" stroke-width="2"/>
<line x1="530.80" y1="717.90" x2="530.80" y2="722.90" stroke="#000" stroke-width="2"/>
<line x1="539.80" y1="717.90" x2="539.80" y2="722.90" stroke="#000" stroke-width="2"/>
<line x1="548.80" y1="717.90" x2="548.80" y2="722.90" stroke="#000" stroke-width="2"/>
<line x1="557.80" y1="717.90" x2="557.80" y2="722.90" stroke="#000" stroke-width="2"/>
<line x1="566.80" y1="717.90" x2="566.80" y2="722.90" stroke="#000" stroke-width="2"/>
<line x1="575.80" y1="717.90" x2="575.80" y2="727.90" stroke="#000" stroke-width="2"/>
<line x1="584.80" y1="717.90" x2="584.80" y2="722.90" stroke="#000" stroke-width="2"/>
<line x1="593.80" y1="717.90" x2="593.80" y2="722.90" stroke="#000" stroke-width="2"/>
<line x1="602.80" y1="717.90" x2="602.80" y2="722.90" stroke="#000" stroke-width="2"/>
<line x1="611.80" y1="717.90" x2="611.80" y2="722.90" stroke="#000" stroke-width="2"/>
<line x1="620.80" y1="717.90" x2="620.80" y2="722.90" stroke="#000" stroke-width="2"/>
<line x1="629.80" y1="717.90" x2="629.80" y2="722.90" stroke="#000" stroke-width="2"/>
<line x1="638.80" y1="717.90" x2="638.80" y2="722.90" stroke="#000" stroke-width="2"/>
<line x1="647.80" y1="717.90" x2="647.80" y2="722.90" stroke="#000" stroke-width="2"/>
<line x1="656.80" y1="717.90" x2="656.80" y2="722.90" stroke="#000" stroke-width="2"/>
<line x1="665.80" y1="717.90" x2="665.80" y2="727.90" stroke="#000" stroke-width="2"/>
<line x1="674.80" y1="717.90" x2="674.80" y2="722.90" stroke="#000" stroke-width="2"/>
<line x1="683.80" y1="717.90" x2="683.80" y2="722.90" stroke="#000" stroke-width="2"/>
<line x1="692.80" y1="717.90" x2="692.80" y2="722.90" stroke="#000" stroke-width="2"/>
<line x1="701.80" y1="717.90" x2="701.80" y2="722.90" stroke="#000" stroke-width="2"/>
<line x1="710.80" y1="717.90" x2="710.80" y2="722.90" stroke="#000" stroke-width="2"/>
<line x1="719.80" y1="717.90" x2="719.80" y2="722.90" stroke="#000" stroke-width="2"/>
<line x1="728.80" y1="717.90" x2="728.80" y2="722.90" stroke="#000" stroke-width="2"/>
<line x1="737.80" y1="717.90" x2="737.80" y2="722.90" stroke="#000" stroke-width="2"/>
<line x1="746.80" y1="717.90" x2="746.80" y2="722.90" stroke="#000" stroke-width="2"/>
<line x1="755.80" y1="717.90" x2="755.80" y2="727.90" stroke="#000" stroke-width="2"/>
<line x1="764.80" y1="717.90" x2="764.80" y2="722.90" stroke="#000" stroke-width="2"/>
<line x1="773.80" y1="717.90" x2="773.80" y2="722.90" stroke="#000" stroke-width="2"/>
<line x1="782.80" y1="717.90" x2="782.80" y2="722.90" stroke="#000" stroke-width="2"/>
<line x1="791.80" y1="717.90" x2="791.80" y2="722.90" stroke="#000" stroke-width="2"/>
<line x1="800.80" y1="717.90" x2="800.80" y2="722.90" stroke="#000" stroke-width="2"/>
<line x1="809.80" y1="717.90" x2="809.80" y2="722.90" stroke="#000" stroke-width="2"/>
<line x1="818.80" y1="717.90" x2="818.80" y2="722.90" stroke="#000" stroke-width="2"/>
<line x1="827.80" y1="717.90" x2="827.80" y2="722.90" stroke="#000" stroke-width="2"/>
<line x1="836.80" y1="717.90" x2="836.80" y2="722.90" stroke="#000" stroke-width="2"/>
<line x1="845.80" y1="717.90" x2="845.80" y2="727.90" stroke="#000" stroke-width="2"/>
<line x1="854.80" y1="717.90" x2="854.80" y2="722.90" stroke="#000" stroke-width="2"/>
<line x1="863.80" y1="717.90" x2="863.80" y2="722.90" stroke="#000" stroke-width="2"/>
<line x1="872.80" y1="717.90" x2="872.80" y2="722.90" stroke="#000" stroke-width="2"/>
<line x1="881.80" y1="717.90" x2="881.80" y2="722.90" stroke="#000" stroke-width="2"/>
<line x1="890.80" y1="717.90" x2="890.80" y2="722.90" stroke="#000" stroke-width="2"/>
<line x1="150.80" y1="717.90" x2="161.80" y2="717.90" stroke="#000" stroke-width="2"/>
<line x1="156.80" y1="666.17" x2="161.80" y2="666.17" stroke="#000" stroke-width="2"/>
<line x1="890.90" y1="666.17" x2="885.90" y2="666.17" stroke="#000" stroke-width="2"/>
<line x1="150.80" y1="614.43" x2="161.80" y2="614.43" stroke="#000" stroke-width="2"/>
<line x1="890.90" y1="614.43" x2="879.90" y2="614.43" stroke="#000" stroke-width="2"/>
<line x1="156.80" y1="562.70" x2="161.80" y2="562.70" stroke="#000" stroke-width="2"/>
<line x1="890.90" y1="562.70" x2="885.90" y2="562.70" stroke="#000" stroke-width="2"/>
<line x1="150.80" y1="510.97" x2="161.80" y2="510.97" stroke="#000" stroke-width="2"/>
<line x1="890.90" y1="510.97" x2="879.90" y2="510.97" stroke="#000" stroke-width="2"/>
<line x1="156.80" y1="459.23" x2="161.80" y2="459.23" stroke="#000" stroke-width="2"/>
<line x1="890.90" y1="459.23" x2="885.90" y2="459.23" stroke="#000" stroke-width="2"/>
<line x1="150.80" y1="407.50" x2="161.80" y2="407.50" stroke="#000" stroke-width="2"/>
<rect x="161.8" y="407.5" width="729.0999999999999" height="310.4" fill="none" stroke="#000" stroke-width="2"/>
<text transform="translate(215.80,758.60) scale(1.0,1.04)" font-size="28" text-anchor="middle" >40</text>
<text transform="translate(305.80,758.60) scale(1.0,1.04)" font-size="28" text-anchor="middle" >50</text>
<text transform="translate(395.80,758.60) scale(1.0,1.04)" font-size="28" text-anchor="middle" >60</text>
<text transform="translate(485.80,758.60) scale(1.0,1.04)" font-size="28" text-anchor="middle" >70</text>
<text transform="translate(575.80,758.60) scale(1.0,1.04)" font-size="28" text-anchor="middle" >80</text>
<text transform="translate(665.80,758.60) scale(1.0,1.04)" font-size="28" text-anchor="middle" >90</text>
<text transform="translate(755.80,758.60) scale(1.0,1.04)" font-size="28" text-anchor="middle" >100</text>
<text transform="translate(845.80,758.60) scale(1.0,1.04)" font-size="28" text-anchor="middle" >110</text>
<text transform="translate(144.20,726.00) scale(1.0,1.02)" font-size="28" text-anchor="end" >0</text>
<text transform="translate(144.20,623.20) scale(1.0,1.02)" font-size="28" text-anchor="end" >5000</text>
<text transform="translate(144.20,518.80) scale(1.0,1.02)" font-size="28" text-anchor="end" >10000</text>
<text transform="translate(144.20,415.80) scale(1.0,1.02)" font-size="28" text-anchor="end" >15000</text>
<text x="512.00" y="797.90" font-size="34" text-anchor="middle" >mass/charge [amu]</text>
<text transform="translate(54.0,537.9) rotate(-90)" font-size="33.6" text-anchor="middle">counts [s<tspan font-size="23" dy="-13.3">-1</tspan><tspan dy="13.3">]</tspan></text>
<text transform="translate(1.20,416.60) scale(1.11,1.0)" font-size="33" text-anchor="start" >b)</text>
<text transform="translate(183.40,453.80) scale(1,1.06)" font-size="28.4">He/<tspan font-size="19" dy="-11.0">16</tspan><tspan dy="11.0">O</tspan><tspan font-size="19" dy="7.5">2</tspan><tspan dy="-7.5"> plasma treatment</tspan></text>
<rect x="208.6" y="487.8" width="64.1" height="26.6" fill="#ff0000"/>
<rect x="209.1" y="528.2" width="63" height="26" fill="#5a64f4" stroke="#3848ff" stroke-width="1"/>
<text transform="translate(279.80,513.40) scale(1.0,1.04)" font-size="28" text-anchor="start" >Hydroquinone (18.21 min)</text>
<text transform="translate(280.00,548.60) scale(1.0,1.04)" font-size="28" text-anchor="start" >Catechol (17.18 min)</text>
<line x1="161.80" y1="1146.40" x2="161.80" y2="1156.40" stroke="#000" stroke-width="1.9"/>
<line x1="210.42" y1="1146.40" x2="210.42" y2="1151.40" stroke="#000" stroke-width="1.9"/>
<line x1="210.42" y1="836.00" x2="210.42" y2="841.00" stroke="#000" stroke-width="1.9"/>
<line x1="259.04" y1="1146.40" x2="259.04" y2="1156.40" stroke="#000" stroke-width="1.9"/>
<line x1="259.04" y1="836.00" x2="259.04" y2="846.00" stroke="#000" stroke-width="1.9"/>
<line x1="307.66" y1="1146.40" x2="307.66" y2="1151.40" stroke="#000" stroke-width="1.9"/>
<line x1="307.66" y1="836.00" x2="307.66" y2="841.00" stroke="#000" stroke-width="1.9"/>
<line x1="356.28" y1="1146.40" x2="356.28" y2="1156.40" stroke="#000" stroke-width="1.9"/>
<line x1="356.28" y1="836.00" x2="356.28" y2="846.00" stroke="#000" stroke-width="1.9"/>
<line x1="404.90" y1="1146.40" x2="404.90" y2="1151.40" stroke="#000" stroke-width="1.9"/>
<line x1="404.90" y1="836.00" x2="404.90" y2="841.00" stroke="#000" stroke-width="1.9"/>
<line x1="453.52" y1="1146.40" x2="453.52" y2="1156.40" stroke="#000" stroke-width="1.9"/>
<line x1="453.52" y1="836.00" x2="453.52" y2="846.00" stroke="#000" stroke-width="1.9"/>
<line x1="502.14" y1="1146.40" x2="502.14" y2="1151.40" stroke="#000" stroke-width="1.9"/>
<line x1="502.14" y1="836.00" x2="502.14" y2="841.00" stroke="#000" stroke-width="1.9"/>
<line x1="550.76" y1="1146.40" x2="550.76" y2="1156.40" stroke="#000" stroke-width="1.9"/>
<line x1="550.76" y1="836.00" x2="550.76" y2="846.00" stroke="#000" stroke-width="1.9"/>
<line x1="599.38" y1="1146.40" x2="599.38" y2="1151.40" stroke="#000" stroke-width="1.9"/>
<line x1="599.38" y1="836.00" x2="599.38" y2="841.00" stroke="#000" stroke-width="1.9"/>
<line x1="648.00" y1="1146.40" x2="648.00" y2="1156.40" stroke="#000" stroke-width="1.9"/>
<line x1="648.00" y1="836.00" x2="648.00" y2="846.00" stroke="#000" stroke-width="1.9"/>
<line x1="696.62" y1="1146.40" x2="696.62" y2="1151.40" stroke="#000" stroke-width="1.9"/>
<line x1="696.62" y1="836.00" x2="696.62" y2="841.00" stroke="#000" stroke-width="1.9"/>
<line x1="745.24" y1="1146.40" x2="745.24" y2="1156.40" stroke="#000" stroke-width="1.9"/>
<line x1="745.24" y1="836.00" x2="745.24" y2="846.00" stroke="#000" stroke-width="1.9"/>
<line x1="793.86" y1="1146.40" x2="793.86" y2="1151.40" stroke="#000" stroke-width="1.9"/>
<line x1="793.86" y1="836.00" x2="793.86" y2="841.00" stroke="#000" stroke-width="1.9"/>
<line x1="842.48" y1="1146.40" x2="842.48" y2="1156.40" stroke="#000" stroke-width="1.9"/>
<line x1="842.48" y1="836.00" x2="842.48" y2="846.00" stroke="#000" stroke-width="1.9"/>
<line x1="891.10" y1="1146.40" x2="891.10" y2="1151.40" stroke="#000" stroke-width="1.9"/>
<line x1="150.80" y1="1133.00" x2="161.80" y2="1133.00" stroke="#000" stroke-width="1.9"/>
<line x1="891.00" y1="1133.00" x2="880.00" y2="1133.00" stroke="#000" stroke-width="1.9"/>
<line x1="156.30" y1="1079.85" x2="161.80" y2="1079.85" stroke="#000" stroke-width="1.9"/>
<line x1="891.00" y1="1079.85" x2="885.50" y2="1079.85" stroke="#000" stroke-width="1.9"/>
<line x1="150.80" y1="1026.70" x2="161.80" y2="1026.70" stroke="#000" stroke-width="1.9"/>
<line x1="891.00" y1="1026.70" x2="880.00" y2="1026.70" stroke="#000" stroke-width="1.9"/>
<line x1="156.30" y1="973.55" x2="161.80" y2="973.55" stroke="#000" stroke-width="1.9"/>
<line x1="891.00" y1="973.55" x2="885.50" y2="973.55" stroke="#000" stroke-width="1.9"/>
<line x1="150.80" y1="920.40" x2="161.80" y2="920.40" stroke="#000" stroke-width="1.9"/>
<line x1="891.00" y1="920.40" x2="880.00" y2="920.40" stroke="#000" stroke-width="1.9"/>
<line x1="156.30" y1="867.25" x2="161.80" y2="867.25" stroke="#000" stroke-width="1.9"/>
<line x1="891.00" y1="867.25" x2="885.50" y2="867.25" stroke="#000" stroke-width="1.9"/>
<rect x="161.8" y="836.0" width="729.2" height="310.4000000000001" fill="none" stroke="#000" stroke-width="1.9"/>
<text transform="translate(161.80,1182.50) scale(1.0,1.02)" font-size="22" text-anchor="middle" >10</text>
<text transform="translate(259.04,1182.50) scale(1.0,1.02)" font-size="22" text-anchor="middle" >12</text>
<text transform="translate(356.28,1182.50) scale(1.0,1.02)" font-size="22" text-anchor="middle" >14</text>
<text transform="translate(453.52,1182.50) scale(1.0,1.02)" font-size="22" text-anchor="middle" >16</text>
<text transform="translate(550.76,1182.50) scale(1.0,1.02)" font-size="22" text-anchor="middle" >18</text>
<text transform="translate(648.00,1182.50) scale(1.0,1.02)" font-size="22" text-anchor="middle" >20</text>
<text transform="translate(745.24,1182.50) scale(1.0,1.02)" font-size="22" text-anchor="middle" >22</text>
<text transform="translate(842.48,1182.50) scale(1.0,1.02)" font-size="22" text-anchor="middle" >24</text>
<text transform="translate(144.10,1141.50) scale(1.0,1.02)" font-size="28" text-anchor="end" >0</text>
<text transform="translate(143.20,1037.60) scale(1,1.03)" font-size="28" text-anchor="end">1x10<tspan font-size="19" dy="-12.1">5</tspan></text>
<text transform="translate(142.80,931.00) scale(1,1.03)" font-size="28" text-anchor="end">2x10<tspan font-size="19" dy="-11.6">5</tspan></text>
<text x="523.00" y="1225.80" font-size="34" text-anchor="middle" >retention time [min]</text>
<text transform="translate(51.4,983.4) rotate(-90)" font-size="33.6" text-anchor="middle">counts [s<tspan font-size="23" dy="-13.3">-1</tspan><tspan dy="13.3">]</tspan></text>
<text transform="translate(1.20,833.50) scale(1.11,1.0)" font-size="33" text-anchor="start" >c)</text>
<text transform="translate(172.60,879.20) scale(1,1.06)" font-size="28.3">He/<tspan font-size="19" dy="-11.0">18</tspan><tspan dy="11.0">O</tspan><tspan font-size="19" dy="7.5">2</tspan><tspan dy="-7.5"> plasma treatment</tspan></text>
<line x1="601.30" y1="876.10" x2="660.60" y2="876.10" stroke="#ff0000" stroke-width="2.2"/>
<text transform="translate(666.10,883.50) scale(1.0,1.03)" font-size="25.6" text-anchor="start" >mass 94 (phenol)</text>
<line x1="601.30" y1="906.80" x2="660.60" y2="906.80" stroke="#009e00" stroke-width="2.2"/>
<text transform="translate(666.10,915.90) scale(1.0,1.03)" font-size="25.6" text-anchor="start" >110</text>
<line x1="601.30" y1="939.40" x2="660.60" y2="939.40" stroke="#2233ff" stroke-width="2.2"/>
<text transform="translate(666.10,946.70) scale(1.0,1.03)" font-size="25.6" text-anchor="start" >112</text>
<line x1="404.00" y1="941.60" x2="404.00" y2="1135.20" stroke="#222" stroke-width="1.5"/>
<line x1="404.00" y1="994.20" x2="418.00" y2="994.20" stroke="#000" stroke-width="1.5"/>
<path d="M416,991.1 L431,994.2 L416,997.3 Z" fill="#000"/>
<text transform="translate(416.10,966.00) scale(1.0,1.04)" font-size="28.5" text-anchor="start" >x 5</text>
<path d="M162.00,1133.00 L163.01,1133.00 L164.03,1133.00 L165.06,1133.00 L166.11,1133.00 L167.17,1133.00 L168.24,1133.00 L169.32,1133.00 L170.42,1133.00 L171.52,1133.00 L172.63,1133.00 L173.76,1133.00 L174.89,1133.01 L176.03,1133.01 L177.18,1133.01 L178.34,1133.02 L179.51,1133.02 L180.68,1133.02 L181.86,1133.03 L183.04,1133.03 L184.23,1133.04 L185.42,1133.04 L186.62,1133.05 L187.83,1133.05 L189.03,1133.06 L190.25,1133.07 L191.46,1133.07 L192.67,1133.08 L193.89,1133.08 L195.11,1133.09 L196.33,1133.09 L197.55,1133.10 L198.77,1133.11 L199.99,1133.11 L201.21,1133.12 L202.42,1133.12 L203.64,1133.13 L204.85,1133.13 L206.06,1133.14 L207.27,1133.15 L208.47,1133.15 L209.67,1133.16 L210.87,1133.16 L212.06,1133.17 L213.24,1133.17 L214.42,1133.18 L215.59,1133.18 L216.76,1133.18 L217.92,1133.19 L219.07,1133.19 L220.21,1133.19 L221.34,1133.20 L222.46,1133.20 L223.58,1133.20 L224.68,1133.20 L225.78,1133.20 L226.86,1133.20 L227.93,1133.20 L228.99,1133.20 L230.04,1133.20 L231.07,1133.20 L232.09,1133.20 L233.10,1133.20 L234.09,1133.20 L235.07,1133.19 L236.03,1133.19 L236.98,1133.19 L237.91,1133.18 L238.83,1133.18 L239.72,1133.17 L240.61,1133.16 L241.47,1133.16 L242.31,1133.15 L243.14,1133.14 L243.94,1133.13 L244.73,1133.12 L245.50,1133.11 L246.24,1133.10 L246.97,1133.09 L247.67,1133.07 L248.35,1133.06 L249.01,1133.05 L249.65,1133.03 L250.26,1133.01 L250.85,1133.00 L251.41,1132.98 L251.95,1132.96 L252.47,1132.94 L252.96,1132.92 L253.42,1132.90 L253.86,1132.87 L254.26,1132.85 L254.65,1132.83 L255.00,1132.80 L256.61,1132.66 L257.64,1132.50 L258.90,1132.20 L259.65,1132.03 L260.50,1131.85 L261.44,1131.66 L262.43,1131.45 L263.48,1131.22 L264.55,1130.97 L265.64,1130.68 L266.73,1130.35 L267.79,1129.99 L268.82,1129.57 L269.79,1129.11 L270.69,1128.58 L271.50,1128.00 L272.22,1127.37 L272.90,1126.69 L273.55,1125.96 L274.15,1125.17 L274.73,1124.35 L275.28,1123.48 L275.80,1122.57 L276.30,1121.63 L276.77,1120.65 L277.22,1119.65 L277.66,1118.62 L278.09,1117.57 L278.50,1116.49 L278.90,1115.40 L279.19,1114.58 L279.46,1113.73 L279.71,1112.86 L279.95,1111.97 L280.17,1111.07 L280.38,1110.14 L280.58,1109.20 L280.77,1108.24 L280.94,1107.26 L281.11,1106.27 L281.27,1105.27 L281.42,1104.25 L281.56,1103.22 L281.70,1102.18 L281.83,1101.13 L281.96,1100.06 L282.09,1098.99 L282.21,1097.91 L282.33,1096.83 L282.46,1095.73 L282.58,1094.63 L282.71,1093.53 L282.83,1092.42 L282.96,1091.31 L283.10,1090.20 L283.21,1089.30 L283.32,1088.40 L283.42,1087.48 L283.52,1086.56 L283.62,1085.63 L283.72,1084.70 L283.81,1083.75 L283.90,1082.80 L283.99,1081.85 L284.08,1080.88 L284.17,1079.92 L284.25,1078.94 L284.33,1077.96 L284.41,1076.98 L284.49,1075.99 L284.57,1074.99 L284.65,1073.99 L284.73,1072.99 L284.80,1071.98 L284.88,1070.96 L284.95,1069.95 L285.02,1068.93 L285.09,1067.90 L285.17,1066.88 L285.24,1065.85 L285.31,1064.82 L285.38,1063.78 L285.45,1062.74 L285.53,1061.70 L285.60,1060.66 L285.67,1059.62 L285.74,1058.58 L285.82,1057.53 L285.89,1056.49 L285.97,1055.44 L286.04,1054.39 L286.12,1053.35 L286.20,1052.30 L286.27,1051.34 L286.34,1050.38 L286.42,1049.41 L286.49,1048.44 L286.56,1047.46 L286.63,1046.48 L286.70,1045.50 L286.77,1044.51 L286.85,1043.52 L286.92,1042.52 L286.99,1041.52 L287.06,1040.52 L287.13,1039.51 L287.20,1038.51 L287.27,1037.50 L287.35,1036.48 L287.42,1035.47 L287.49,1034.45 L287.56,1033.43 L287.63,1032.41 L287.70,1031.39 L287.77,1030.37 L287.84,1029.35 L287.91,1028.33 L287.98,1027.30 L288.05,1026.28 L288.12,1025.26 L288.19,1024.23 L288.26,1023.21 L288.32,1022.19 L288.39,1021.17 L288.46,1020.15 L288.53,1019.13 L288.60,1018.11 L288.67,1017.10 L288.73,1016.08 L288.80,1015.07 L288.87,1014.06 L288.94,1013.06 L289.00,1012.05 L289.07,1011.05 L289.14,1010.05 L289.20,1009.06 L289.27,1008.07 L289.33,1007.08 L289.40,1006.10 L289.47,1005.08 L289.54,1004.05 L289.60,1003.02 L289.67,1001.99 L289.74,1000.96 L289.80,999.93 L289.87,998.90 L289.93,997.87 L290.00,996.83 L290.06,995.80 L290.12,994.77 L290.19,993.74 L290.25,992.71 L290.31,991.68 L290.38,990.65 L290.44,989.62 L290.50,988.59 L290.57,987.57 L290.63,986.55 L290.69,985.53 L290.75,984.51 L290.81,983.50 L290.88,982.48 L290.94,981.48 L291.00,980.47 L291.06,979.47 L291.13,978.47 L291.19,977.48 L291.25,976.49 L291.32,975.50 L291.38,974.52 L291.44,973.54 L291.51,972.57 L291.57,971.61 L291.64,970.65 L291.70,969.69 L291.77,968.74 L291.83,967.80 L291.90,966.87 L291.97,965.94 L292.03,965.02 L292.10,964.10 L292.18,963.00 L292.26,961.91 L292.35,960.83 L292.43,959.75 L292.51,958.69 L292.59,957.64 L292.67,956.59 L292.75,955.55 L292.83,954.52 L292.91,953.49 L293.00,952.48 L293.08,951.46 L293.16,950.45 L293.24,949.45 L293.33,948.45 L293.41,947.45 L293.50,946.46 L293.58,945.47 L293.67,944.48 L293.76,943.49 L293.84,942.51 L293.93,941.52 L294.02,940.54 L294.12,939.55 L294.21,938.57 L294.31,937.58 L294.40,936.59 L294.50,935.60 L294.60,934.60 L294.70,933.56 L294.80,932.50 L294.90,931.43 L294.99,930.34 L295.09,929.24 L295.18,928.14 L295.27,927.03 L295.37,925.91 L295.46,924.80 L295.55,923.68 L295.65,922.57 L295.75,921.47 L295.85,920.37 L295.95,919.29 L296.06,918.22 L296.17,917.17 L296.28,916.13 L296.40,915.12 L296.53,914.12 L296.66,913.16 L296.80,912.22 L296.95,911.31 L297.10,910.43 L297.26,909.59 L297.43,908.79 L297.61,908.02 L297.80,907.30 L298.19,905.93 L298.60,904.55 L299.05,903.21 L299.51,901.97 L299.98,900.90 L300.46,900.05 L300.93,899.50 L301.40,899.30 L301.88,899.51 L302.38,900.10 L302.90,900.99 L303.41,902.11 L303.91,903.38 L304.38,904.72 L304.81,906.05 L305.20,907.30 L305.45,908.19 L305.67,909.10 L305.86,910.04 L306.03,911.01 L306.18,912.00 L306.31,913.02 L306.44,914.06 L306.56,915.12 L306.67,916.21 L306.78,917.32 L306.90,918.46 L307.02,919.62 L307.15,920.80 L307.30,922.00 L307.41,922.87 L307.52,923.76 L307.63,924.67 L307.74,925.60 L307.85,926.55 L307.96,927.52 L308.07,928.50 L308.18,929.50 L308.29,930.51 L308.41,931.53 L308.52,932.56 L308.63,933.60 L308.74,934.65 L308.86,935.70 L308.97,936.76 L309.09,937.82 L309.20,938.89 L309.32,939.96 L309.44,941.02 L309.55,942.09 L309.67,943.15 L309.79,944.21 L309.91,945.27 L310.03,946.31 L310.15,947.35 L310.28,948.38 L310.40,949.40 L310.53,950.41 L310.65,951.41 L310.78,952.41 L310.91,953.40 L311.05,954.39 L311.18,955.37 L311.32,956.35 L311.45,957.33 L311.59,958.31 L311.73,959.29 L311.87,960.27 L312.01,961.25 L312.15,962.23 L312.29,963.22 L312.43,964.21 L312.56,965.21 L312.70,966.21 L312.84,967.21 L312.98,968.23 L313.11,969.25 L313.24,970.28 L313.37,971.32 L313.50,972.37 L313.63,973.44 L313.76,974.51 L313.88,975.60 L314.00,976.70 L314.10,977.61 L314.19,978.52 L314.29,979.44 L314.38,980.38 L314.47,981.32 L314.56,982.26 L314.65,983.21 L314.74,984.17 L314.83,985.14 L314.92,986.11 L315.01,987.09 L315.10,988.08 L315.18,989.06 L315.27,990.06 L315.35,991.06 L315.44,992.06 L315.52,993.07 L315.60,994.08 L315.69,995.09 L315.77,996.11 L315.85,997.13 L315.93,998.15 L316.01,999.17 L316.09,1000.20 L316.17,1001.22 L316.25,1002.25 L316.32,1003.28 L316.40,1004.31 L316.48,1005.34 L316.55,1006.37 L316.63,1007.40 L316.71,1008.43 L316.78,1009.46 L316.86,1010.48 L316.93,1011.51 L317.01,1012.53 L317.08,1013.55 L317.15,1014.57 L317.23,1015.59 L317.30,1016.60 L317.37,1017.59 L317.44,1018.58 L317.51,1019.57 L317.58,1020.56 L317.65,1021.56 L317.71,1022.55 L317.78,1023.55 L317.85,1024.55 L317.91,1025.55 L317.97,1026.55 L318.04,1027.55 L318.10,1028.55 L318.16,1029.55 L318.23,1030.56 L318.29,1031.56 L318.35,1032.57 L318.41,1033.57 L318.47,1034.58 L318.53,1035.58 L318.59,1036.59 L318.65,1037.59 L318.71,1038.60 L318.77,1039.61 L318.83,1040.61 L318.89,1041.62 L318.95,1042.63 L319.01,1043.63 L319.07,1044.63 L319.12,1045.64 L319.18,1046.64 L319.24,1047.65 L319.30,1048.65 L319.36,1049.65 L319.42,1050.65 L319.48,1051.65 L319.54,1052.64 L319.60,1053.64 L319.66,1054.64 L319.72,1055.63 L319.78,1056.62 L319.84,1057.61 L319.90,1058.60 L319.96,1059.62 L320.02,1060.64 L320.08,1061.67 L320.14,1062.70 L320.19,1063.74 L320.25,1064.78 L320.30,1065.82 L320.35,1066.87 L320.40,1067.92 L320.45,1068.97 L320.50,1070.03 L320.55,1071.08 L320.60,1072.13 L320.65,1073.19 L320.70,1074.24 L320.75,1075.29 L320.80,1076.34 L320.85,1077.39 L320.90,1078.43 L320.96,1079.47 L321.01,1080.51 L321.06,1081.54 L321.12,1082.56 L321.18,1083.58 L321.23,1084.59 L321.30,1085.60 L321.36,1086.60 L321.42,1087.58 L321.49,1088.56 L321.56,1089.54 L321.63,1090.50 L321.70,1091.45 L321.78,1092.39 L321.86,1093.31 L321.94,1094.23 L322.02,1095.13 L322.11,1096.02 L322.20,1096.89 L322.30,1097.75 L322.40,1098.60 L322.54,1099.76 L322.67,1100.92 L322.80,1102.07 L322.92,1103.21 L323.05,1104.34 L323.17,1105.45 L323.30,1106.56 L323.43,1107.64 L323.57,1108.71 L323.71,1109.76 L323.86,1110.79 L324.02,1111.80 L324.19,1112.79 L324.38,1113.74 L324.58,1114.67 L324.80,1115.58 L325.04,1116.45 L325.30,1117.29 L325.57,1118.10 L325.87,1118.87 L326.20,1119.60 L326.74,1120.69 L327.32,1121.70 L327.92,1122.63 L328.56,1123.50 L329.24,1124.31 L329.97,1125.06 L330.76,1125.75 L331.60,1126.40 L332.50,1127.00 L333.35,1127.47 L334.26,1127.88 L335.22,1128.23 L336.23,1128.54 L337.28,1128.81 L338.37,1129.04 L339.47,1129.25 L340.60,1129.43 L341.73,1129.60 L342.86,1129.77 L343.99,1129.93 L345.10,1130.10 L346.10,1130.25 L347.09,1130.38 L348.06,1130.50 L349.03,1130.60 L350.00,1130.68 L350.98,1130.76 L351.98,1130.82 L353.00,1130.88 L354.05,1130.94 L355.14,1130.99 L356.27,1131.04 L357.45,1131.09 L358.69,1131.14 L360.00,1131.20 L360.75,1131.23 L361.53,1131.27 L362.33,1131.30 L363.15,1131.33 L363.99,1131.35 L364.85,1131.38 L365.73,1131.41 L366.63,1131.43 L367.54,1131.46 L368.47,1131.48 L369.42,1131.50 L370.38,1131.52 L371.36,1131.54 L372.35,1131.56 L373.35,1131.58 L374.36,1131.60 L375.39,1131.61 L376.42,1131.63 L377.47,1131.65 L378.52,1131.66 L379.57,1131.68 L380.64,1131.69 L381.71,1131.71 L382.79,1131.72 L383.86,1131.73 L384.95,1131.75 L386.03,1131.76 L387.12,1131.77 L388.20,1131.79 L389.29,1131.80 L390.37,1131.81 L391.46,1131.83 L392.54,1131.84 L393.61,1131.86 L394.69,1131.87 L395.75,1131.88 L396.81,1131.90 L397.87,1131.91 L398.91,1131.93 L399.95,1131.95 L400.98,1131.96 L401.99,1131.98 L403.00,1132.00" fill="none" stroke="#ff0000" stroke-width="2.6" stroke-linejoin="round" stroke-linecap="butt" />
<path d="M404.00,1130.00 L455.00,1130.80 L455.00,1133.40 L891.00,1133.40" fill="none" stroke="#ff0000" stroke-width="2.6" stroke-linejoin="round" stroke-linecap="butt" />
<path d="M404.00,1132.80 L503.30,1132.80 L504.90,1120.90 L505.47,1120.49 L506.10,1120.30 L506.68,1120.65 L507.36,1121.38 L508.09,1122.36 L508.87,1123.44 L509.68,1124.47 L510.50,1125.30 L511.42,1126.04 L512.37,1126.72 L513.36,1127.33 L514.39,1127.89 L515.50,1128.40 L516.45,1128.77 L517.44,1129.10 L518.47,1129.39 L519.54,1129.65 L520.65,1129.88 L521.80,1130.10 L523.00,1130.30 L523.92,1130.44 L524.87,1130.57 L525.85,1130.68 L526.85,1130.78 L527.87,1130.87 L528.92,1130.95 L529.99,1131.02 L531.07,1131.08 L532.18,1131.14 L533.30,1131.20 L534.44,1131.25 L535.60,1131.30 L536.52,1131.34 L537.47,1131.37 L538.43,1131.40 L539.41,1131.42 L540.41,1131.43 L541.42,1131.45 L542.44,1131.46 L543.47,1131.47 L544.51,1131.47 L545.56,1131.47 L546.62,1131.47 L547.67,1131.48 L548.73,1131.48 L549.79,1131.48 L550.84,1131.48 L551.89,1131.48 L552.94,1131.48 L553.97,1131.49 L555.00,1131.50 L557.00,1130.40 L557.80,1092.20 L558.25,1091.61 L558.70,1091.30 L558.98,1091.59 L559.25,1092.25 L559.52,1093.20 L559.79,1094.38 L560.07,1095.70 L560.35,1097.09 L560.65,1098.47 L560.97,1099.76 L561.30,1100.90 L561.63,1101.90 L561.97,1102.90 L562.31,1103.89 L562.66,1104.87 L563.03,1105.84 L563.42,1106.80 L563.84,1107.75 L564.30,1108.68 L564.80,1109.60 L565.35,1110.53 L565.92,1111.47 L566.52,1112.39 L567.15,1113.30 L567.82,1114.19 L568.52,1115.06 L569.27,1115.88 L570.06,1116.67 L570.90,1117.40 L571.69,1118.01 L572.52,1118.58 L573.40,1119.11 L574.31,1119.62 L575.25,1120.10 L576.21,1120.56 L577.20,1120.99 L578.21,1121.41 L579.23,1121.82 L580.26,1122.21 L581.30,1122.60 L582.21,1122.93 L583.12,1123.24 L584.04,1123.53 L584.97,1123.81 L585.91,1124.08 L586.87,1124.34 L587.84,1124.58 L588.83,1124.82 L589.83,1125.04 L590.86,1125.27 L591.90,1125.48 L592.98,1125.69 L594.07,1125.90 L595.20,1126.10 L596.08,1126.25 L596.98,1126.40 L597.89,1126.54 L598.83,1126.68 L599.78,1126.81 L600.74,1126.94 L601.72,1127.06 L602.71,1127.18 L603.71,1127.29 L604.73,1127.40 L605.75,1127.51 L606.79,1127.61 L607.83,1127.72 L608.88,1127.81 L609.94,1127.91 L611.00,1128.00 L612.07,1128.10 L613.14,1128.19 L614.22,1128.27 L615.29,1128.36 L616.37,1128.45 L617.45,1128.53 L618.53,1128.62 L619.60,1128.70 L620.56,1128.77 L621.51,1128.84 L622.47,1128.91 L623.43,1128.98 L624.38,1129.04 L625.34,1129.11 L626.30,1129.17 L627.27,1129.23 L628.23,1129.28 L629.20,1129.34 L630.18,1129.39 L631.15,1129.44 L632.14,1129.49 L633.12,1129.54 L634.12,1129.59 L635.12,1129.64 L636.12,1129.68 L637.13,1129.73 L638.15,1129.77 L639.18,1129.81 L640.22,1129.85 L641.26,1129.89 L642.32,1129.93 L643.38,1129.97 L644.46,1130.01 L645.54,1130.05 L646.64,1130.09 L647.75,1130.13 L648.87,1130.16 L650.00,1130.20 L650.87,1130.23 L651.75,1130.26 L652.62,1130.28 L653.49,1130.31 L654.35,1130.33 L655.22,1130.36 L656.09,1130.38 L656.95,1130.40 L657.82,1130.42 L658.69,1130.44 L659.56,1130.47 L660.43,1130.49 L661.31,1130.50 L662.19,1130.52 L663.07,1130.54 L663.96,1130.56 L664.85,1130.58 L665.75,1130.59 L666.65,1130.61 L667.56,1130.62 L668.47,1130.64 L669.39,1130.65 L670.32,1130.67 L671.26,1130.68 L672.21,1130.70 L673.16,1130.71 L674.12,1130.72 L675.10,1130.73 L676.08,1130.75 L677.08,1130.76 L678.09,1130.77 L679.10,1130.78 L680.13,1130.80 L681.18,1130.81 L682.23,1130.82 L683.31,1130.83 L684.39,1130.84 L685.49,1130.85 L686.60,1130.87 L687.73,1130.88 L688.88,1130.89 L690.04,1130.90 L691.22,1130.91 L692.42,1130.92 L693.64,1130.94 L694.87,1130.95 L696.12,1130.96 L697.39,1130.97 L698.69,1130.99 L700.00,1131.00 L700.68,1131.01 L701.37,1131.01 L702.06,1131.02 L702.76,1131.03 L703.47,1131.03 L704.18,1131.04 L704.90,1131.05 L705.63,1131.05 L706.36,1131.06 L707.10,1131.07 L707.84,1131.07 L708.59,1131.08 L709.35,1131.08 L710.12,1131.09 L710.89,1131.10 L711.66,1131.10 L712.44,1131.11 L713.23,1131.11 L714.02,1131.12 L714.82,1131.13 L715.63,1131.13 L716.44,1131.14 L717.25,1131.14 L718.07,1131.15 L718.90,1131.15 L719.73,1131.16 L720.57,1131.17 L721.41,1131.17 L722.26,1131.18 L723.11,1131.18 L723.97,1131.19 L724.84,1131.19 L725.70,1131.20 L726.58,1131.20 L727.46,1131.21 L728.34,1131.21 L729.23,1131.22 L730.12,1131.22 L731.02,1131.23 L731.92,1131.23 L732.83,1131.24 L733.74,1131.24 L734.66,1131.25 L735.58,1131.25 L736.51,1131.26 L737.43,1131.26 L738.37,1131.27 L739.31,1131.27 L740.25,1131.28 L741.20,1131.28 L742.15,1131.29 L743.10,1131.29 L744.06,1131.30 L745.02,1131.30 L745.99,1131.30 L746.96,1131.31 L747.94,1131.31 L748.91,1131.32 L749.90,1131.32 L750.88,1131.33 L751.87,1131.33 L752.86,1131.33 L753.86,1131.34 L754.86,1131.34 L755.86,1131.35 L756.87,1131.35 L757.88,1131.36 L758.89,1131.36 L759.90,1131.36 L760.92,1131.37 L761.95,1131.37 L762.97,1131.38 L764.00,1131.38 L765.03,1131.38 L766.06,1131.39 L767.10,1131.39 L768.14,1131.40 L769.18,1131.40 L770.22,1131.40 L771.27,1131.41 L772.32,1131.41 L773.37,1131.41 L774.43,1131.42 L775.48,1131.42 L776.54,1131.43 L777.60,1131.43 L778.67,1131.43 L779.73,1131.44 L780.80,1131.44 L781.87,1131.44 L782.94,1131.45 L784.01,1131.45 L785.09,1131.45 L786.17,1131.46 L787.25,1131.46 L788.33,1131.46 L789.41,1131.47 L790.49,1131.47 L791.58,1131.48 L792.67,1131.48 L793.75,1131.48 L794.84,1131.49 L795.94,1131.49 L797.03,1131.49 L798.12,1131.50 L799.22,1131.50 L800.31,1131.50 L801.41,1131.51 L802.51,1131.51 L803.61,1131.51 L804.71,1131.52 L805.81,1131.52 L806.91,1131.52 L808.01,1131.53 L809.12,1131.53 L810.22,1131.53 L811.33,1131.54 L812.43,1131.54 L813.54,1131.54 L814.64,1131.55 L815.75,1131.55 L816.86,1131.55 L817.96,1131.56 L819.07,1131.56 L820.18,1131.56 L821.29,1131.57 L822.39,1131.57 L823.50,1131.57 L824.61,1131.58 L825.72,1131.58 L826.82,1131.58 L827.93,1131.59 L829.04,1131.59 L830.14,1131.59 L831.25,1131.60 L832.36,1131.60 L833.46,1131.60 L834.57,1131.61 L835.67,1131.61 L836.78,1131.61 L837.88,1131.62 L838.98,1131.62 L840.08,1131.62 L841.18,1131.63 L842.28,1131.63 L843.38,1131.63 L844.48,1131.64 L845.58,1131.64 L846.67,1131.64 L847.77,1131.65 L848.86,1131.65 L849.95,1131.65 L851.04,1131.66 L852.13,1131.66 L853.22,1131.66 L854.31,1131.67 L855.39,1131.67 L856.48,1131.67 L857.56,1131.68 L858.64,1131.68 L859.72,1131.68 L860.79,1131.69 L861.87,1131.69 L862.94,1131.70 L864.01,1131.70 L865.08,1131.70 L866.15,1131.71 L867.21,1131.71 L868.28,1131.71 L869.34,1131.72 L870.39,1131.72 L871.45,1131.72 L872.50,1131.73 L873.55,1131.73 L874.60,1131.74 L875.65,1131.74 L876.69,1131.74 L877.73,1131.75 L878.77,1131.75 L879.81,1131.76 L880.84,1131.76 L881.87,1131.76 L882.90,1131.77 L883.92,1131.77 L884.94,1131.78 L885.96,1131.78 L886.97,1131.78 L887.99,1131.79 L888.99,1131.79 L890.00,1131.80 L891.00,1131.80" fill="none" stroke="#009e00" stroke-width="2.6" stroke-linejoin="round" stroke-linecap="butt" />
<path d="M161.80,1133.00 L404.00,1133.00" fill="none" stroke="#2233ff" stroke-width="2.6" stroke-linejoin="round" stroke-linecap="butt" />
<path d="M404.00,1132.80 L503.30,1132.80 L503.60,1060.10 L504.50,1016.30 L504.58,1015.21 L504.65,1014.03 L504.72,1012.79 L504.80,1011.49 L504.87,1010.14 L504.94,1008.77 L505.02,1007.38 L505.09,1005.99 L505.16,1004.62 L505.24,1003.27 L505.31,1001.97 L505.38,1000.73 L505.46,999.55 L505.53,998.46 L505.61,997.47 L505.69,996.59 L505.77,995.84 L505.85,995.23 L505.93,994.78 L506.01,994.50 L506.10,994.40 L506.21,994.52 L506.31,994.89 L506.43,995.46 L506.54,996.22 L506.66,997.15 L506.78,998.21 L506.90,999.39 L507.02,1000.66 L507.14,1001.99 L507.26,1003.37 L507.37,1004.76 L507.48,1006.14 L507.59,1007.49 L507.70,1008.79 L507.80,1010.00 L507.87,1010.89 L507.94,1011.81 L508.01,1012.73 L508.08,1013.68 L508.14,1014.64 L508.20,1015.61 L508.26,1016.60 L508.32,1017.59 L508.38,1018.60 L508.43,1019.61 L508.49,1020.63 L508.54,1021.66 L508.60,1022.70 L508.65,1023.74 L508.71,1024.78 L508.76,1025.82 L508.82,1026.86 L508.87,1027.91 L508.93,1028.95 L508.99,1029.99 L509.05,1031.02 L509.11,1032.05 L509.17,1033.08 L509.23,1034.09 L509.30,1035.10 L509.37,1036.10 L509.44,1037.11 L509.51,1038.13 L509.58,1039.14 L509.65,1040.16 L509.72,1041.18 L509.80,1042.21 L509.87,1043.23 L509.95,1044.25 L510.02,1045.28 L510.10,1046.30 L510.17,1047.32 L510.25,1048.34 L510.33,1049.35 L510.41,1050.36 L510.49,1051.37 L510.56,1052.37 L510.64,1053.36 L510.72,1054.35 L510.80,1055.33 L510.88,1056.30 L510.96,1057.27 L511.04,1058.22 L511.12,1059.17 L511.20,1060.10 L511.29,1061.21 L511.38,1062.32 L511.47,1063.41 L511.56,1064.49 L511.64,1065.56 L511.73,1066.62 L511.81,1067.67 L511.90,1068.72 L511.99,1069.76 L512.08,1070.79 L512.17,1071.82 L512.27,1072.84 L512.38,1073.86 L512.49,1074.87 L512.60,1075.88 L512.73,1076.89 L512.86,1077.90 L513.00,1078.90 L513.16,1079.96 L513.32,1081.02 L513.48,1082.08 L513.65,1083.14 L513.83,1084.20 L514.01,1085.25 L514.19,1086.30 L514.38,1087.34 L514.58,1088.37 L514.79,1089.39 L515.00,1090.39 L515.23,1091.39 L515.46,1092.37 L515.69,1093.33 L515.94,1094.27 L516.20,1095.20 L516.50,1096.23 L516.80,1097.25 L517.12,1098.24 L517.44,1099.22 L517.77,1100.18 L518.11,1101.13 L518.46,1102.06 L518.83,1102.97 L519.22,1103.88 L519.63,1104.76 L520.05,1105.64 L520.50,1106.50 L521.03,1107.47 L521.58,1108.44 L522.14,1109.39 L522.73,1110.33 L523.34,1111.25 L523.97,1112.13 L524.63,1112.99 L525.32,1113.81 L526.04,1114.58 L526.80,1115.30 L527.57,1115.95 L528.37,1116.55 L529.21,1117.11 L530.08,1117.64 L530.97,1118.14 L531.88,1118.61 L532.80,1119.05 L533.73,1119.48 L534.67,1119.89 L535.60,1120.30 L536.56,1120.70 L537.54,1121.07 L538.53,1121.41 L539.53,1121.74 L540.55,1122.05 L541.56,1122.34 L542.58,1122.62 L543.59,1122.88 L544.60,1123.15 L545.60,1123.40 L546.65,1123.66 L547.70,1123.89 L548.75,1124.11 L549.79,1124.32 L550.83,1124.51 L551.87,1124.71 L552.91,1124.90 L553.96,1125.09 L555.00,1125.30 L556.10,1076.50 L557.00,1007.00 L557.80,946.10 L557.83,945.03 L557.85,943.87 L557.87,942.63 L557.89,941.33 L557.90,940.00 L557.92,938.65 L557.93,937.30 L557.95,935.96 L557.97,934.67 L557.99,933.43 L558.01,932.26 L558.04,931.19 L558.07,930.24 L558.10,929.41 L558.14,928.74 L558.19,928.23 L558.24,927.91 L558.30,927.80 L558.37,927.90 L558.45,928.21 L558.54,928.69 L558.63,929.34 L558.74,930.13 L558.84,931.06 L558.96,932.10 L559.07,933.24 L559.19,934.45 L559.30,935.73 L559.42,937.05 L559.53,938.40 L559.64,939.76 L559.75,941.11 L559.85,942.44 L559.94,943.72 L560.03,944.95 L560.10,946.10 L560.15,947.02 L560.20,947.95 L560.25,948.90 L560.29,949.86 L560.33,950.83 L560.36,951.80 L560.39,952.79 L560.42,953.79 L560.45,954.79 L560.47,955.80 L560.49,956.81 L560.51,957.83 L560.53,958.86 L560.55,959.89 L560.56,960.92 L560.58,961.95 L560.60,962.98 L560.61,964.02 L560.63,965.05 L560.65,966.08 L560.67,967.11 L560.69,968.14 L560.71,969.16 L560.74,970.18 L560.77,971.19 L560.80,972.20 L560.83,973.20 L560.86,974.21 L560.90,975.21 L560.93,976.22 L560.96,977.22 L560.99,978.23 L561.02,979.23 L561.05,980.23 L561.08,981.24 L561.11,982.24 L561.15,983.25 L561.18,984.25 L561.21,985.26 L561.25,986.26 L561.28,987.26 L561.32,988.27 L561.36,989.27 L561.40,990.28 L561.44,991.28 L561.49,992.28 L561.53,993.29 L561.58,994.29 L561.63,995.29 L561.69,996.30 L561.74,997.30 L561.80,998.30 L561.86,999.31 L561.92,1000.32 L561.99,1001.33 L562.05,1002.36 L562.12,1003.38 L562.19,1004.41 L562.26,1005.45 L562.33,1006.48 L562.40,1007.51 L562.47,1008.55 L562.55,1009.58 L562.63,1010.61 L562.71,1011.64 L562.79,1012.66 L562.87,1013.68 L562.96,1014.69 L563.04,1015.69 L563.13,1016.69 L563.22,1017.68 L563.31,1018.66 L563.41,1019.63 L563.50,1020.59 L563.60,1021.54 L563.70,1022.47 L563.80,1023.39 L563.90,1024.30 L564.03,1025.41 L564.16,1026.50 L564.29,1027.56 L564.43,1028.61 L564.57,1029.63 L564.71,1030.64 L564.85,1031.64 L564.99,1032.64 L565.14,1033.62 L565.30,1034.61 L565.45,1035.59 L565.61,1036.58 L565.78,1037.58 L565.95,1038.59 L566.13,1039.61 L566.31,1040.64 L566.50,1041.70 L566.67,1042.66 L566.85,1043.63 L567.02,1044.61 L567.20,1045.60 L567.39,1046.60 L567.57,1047.61 L567.76,1048.62 L567.96,1049.63 L568.16,1050.65 L568.36,1051.67 L568.56,1052.69 L568.77,1053.71 L568.99,1054.72 L569.21,1055.73 L569.43,1056.74 L569.66,1057.74 L569.90,1058.73 L570.14,1059.72 L570.39,1060.69 L570.64,1061.65 L570.90,1062.60 L571.19,1063.62 L571.48,1064.63 L571.78,1065.63 L572.09,1066.62 L572.40,1067.61 L572.72,1068.59 L573.04,1069.57 L573.37,1070.54 L573.71,1071.50 L574.05,1072.46 L574.40,1073.42 L574.75,1074.37 L575.11,1075.32 L575.48,1076.26 L575.85,1077.20 L576.23,1078.14 L576.61,1079.07 L577.00,1080.00 L577.41,1080.96 L577.81,1081.93 L578.22,1082.90 L578.63,1083.88 L579.05,1084.85 L579.47,1085.82 L579.90,1086.78 L580.33,1087.74 L580.78,1088.68 L581.23,1089.62 L581.70,1090.54 L582.18,1091.45 L582.67,1092.34 L583.18,1093.22 L583.70,1094.07 L584.24,1094.90 L584.80,1095.70 L585.44,1096.57 L586.10,1097.41 L586.78,1098.24 L587.48,1099.05 L588.20,1099.83 L588.93,1100.60 L589.67,1101.35 L590.43,1102.08 L591.20,1102.79 L591.98,1103.49 L592.77,1104.16 L593.58,1104.82 L594.38,1105.47 L595.20,1106.10 L596.00,1106.70 L596.81,1107.27 L597.63,1107.83 L598.45,1108.37 L599.29,1108.89 L600.14,1109.39 L600.99,1109.88 L601.86,1110.36 L602.75,1110.82 L603.65,1111.28 L604.56,1111.72 L605.49,1112.15 L606.44,1112.58 L607.40,1113.00 L608.27,1113.37 L609.15,1113.72 L610.04,1114.07 L610.95,1114.40 L611.86,1114.73 L612.79,1115.05 L613.73,1115.36 L614.68,1115.66 L615.64,1115.96 L616.62,1116.25 L617.60,1116.53 L618.60,1116.80 L619.60,1117.06 L620.62,1117.32 L621.65,1117.58 L622.69,1117.82 L623.74,1118.06 L624.80,1118.30 L625.71,1118.49 L626.63,1118.68 L627.56,1118.86 L628.49,1119.03 L629.43,1119.19 L630.38,1119.35 L631.33,1119.50 L632.30,1119.64 L633.27,1119.78 L634.25,1119.92 L635.24,1120.05 L636.23,1120.17 L637.24,1120.30 L638.25,1120.42 L639.27,1120.54 L640.30,1120.65 L641.34,1120.77 L642.39,1120.88 L643.45,1121.00 L644.52,1121.11 L645.60,1121.23 L646.68,1121.34 L647.78,1121.46 L648.88,1121.58 L650.00,1121.70 L650.90,1121.80 L651.80,1121.89 L652.71,1121.99 L653.62,1122.09 L654.54,1122.18 L655.47,1122.28 L656.40,1122.37 L657.34,1122.46 L658.29,1122.56 L659.24,1122.65 L660.19,1122.74 L661.15,1122.83 L662.12,1122.92 L663.09,1123.01 L664.07,1123.10 L665.06,1123.19 L666.05,1123.27 L667.04,1123.36 L668.05,1123.45 L669.05,1123.53 L670.07,1123.62 L671.08,1123.70 L672.11,1123.78 L673.14,1123.87 L674.17,1123.95 L675.21,1124.03 L676.25,1124.11 L677.30,1124.19 L678.36,1124.26 L679.42,1124.34 L680.49,1124.42 L681.56,1124.49 L682.64,1124.57 L683.72,1124.64 L684.80,1124.72 L685.89,1124.79 L686.99,1124.86 L688.09,1124.93 L689.20,1125.00 L690.10,1125.06 L691.01,1125.11 L691.92,1125.16 L692.84,1125.22 L693.76,1125.27 L694.69,1125.32 L695.63,1125.38 L696.56,1125.43 L697.51,1125.48 L698.45,1125.53 L699.40,1125.57 L700.36,1125.62 L701.32,1125.67 L702.28,1125.72 L703.25,1125.76 L704.22,1125.81 L705.20,1125.86 L706.18,1125.90 L707.16,1125.95 L708.15,1125.99 L709.14,1126.03 L710.13,1126.08 L711.13,1126.12 L712.13,1126.16 L713.13,1126.20 L714.14,1126.24 L715.15,1126.28 L716.16,1126.32 L717.17,1126.36 L718.19,1126.40 L719.21,1126.44 L720.23,1126.48 L721.26,1126.52 L722.29,1126.55 L723.31,1126.59 L724.35,1126.63 L725.38,1126.66 L726.41,1126.70 L727.45,1126.73 L728.49,1126.77 L729.53,1126.81 L730.57,1126.84 L731.61,1126.88 L732.66,1126.91 L733.70,1126.94 L734.75,1126.98 L735.79,1127.01 L736.84,1127.04 L737.89,1127.08 L738.94,1127.11 L739.99,1127.14 L741.04,1127.18 L742.09,1127.21 L743.14,1127.24 L744.19,1127.27 L745.25,1127.30 L746.30,1127.34 L747.35,1127.37 L748.40,1127.40 L749.36,1127.43 L750.33,1127.46 L751.29,1127.48 L752.26,1127.51 L753.24,1127.54 L754.21,1127.57 L755.19,1127.59 L756.17,1127.62 L757.15,1127.64 L758.13,1127.67 L759.12,1127.69 L760.11,1127.72 L761.10,1127.74 L762.09,1127.77 L763.08,1127.79 L764.08,1127.81 L765.08,1127.84 L766.08,1127.86 L767.08,1127.88 L768.08,1127.90 L769.09,1127.92 L770.09,1127.95 L771.10,1127.97 L772.11,1127.99 L773.12,1128.01 L774.13,1128.03 L775.14,1128.05 L776.16,1128.07 L777.17,1128.09 L778.19,1128.11 L779.21,1128.13 L780.22,1128.15 L781.24,1128.17 L782.26,1128.18 L783.28,1128.20 L784.30,1128.22 L785.32,1128.24 L786.35,1128.26 L787.37,1128.28 L788.39,1128.29 L789.42,1128.31 L790.44,1128.33 L791.46,1128.34 L792.49,1128.36 L793.51,1128.38 L794.54,1128.40 L795.56,1128.41 L796.59,1128.43 L797.61,1128.45 L798.63,1128.46 L799.66,1128.48 L800.68,1128.50 L801.71,1128.51 L802.73,1128.53 L803.75,1128.54 L804.77,1128.56 L805.79,1128.58 L806.81,1128.59 L807.83,1128.61 L808.85,1128.62 L809.87,1128.64 L810.89,1128.66 L811.91,1128.67 L812.92,1128.69 L813.94,1128.70 L814.95,1128.72 L815.96,1128.74 L816.97,1128.75 L817.98,1128.77 L818.99,1128.78 L820.00,1128.80 L821.00,1128.82 L822.00,1128.83 L823.01,1128.85 L824.01,1128.86 L825.01,1128.88 L826.01,1128.89 L827.01,1128.91 L828.01,1128.92 L829.01,1128.94 L830.02,1128.95 L831.02,1128.97 L832.02,1128.98 L833.02,1128.99 L834.02,1129.01 L835.02,1129.02 L836.02,1129.04 L837.02,1129.05 L838.02,1129.06 L839.02,1129.08 L840.02,1129.09 L841.02,1129.10 L842.02,1129.12 L843.02,1129.13 L844.02,1129.14 L845.02,1129.15 L846.02,1129.17 L847.02,1129.18 L848.02,1129.19 L849.02,1129.20 L850.02,1129.22 L851.02,1129.23 L852.02,1129.24 L853.02,1129.25 L854.02,1129.26 L855.02,1129.27 L856.02,1129.29 L857.02,1129.30 L858.02,1129.31 L859.02,1129.32 L860.02,1129.33 L861.02,1129.35 L862.01,1129.36 L863.01,1129.37 L864.01,1129.38 L865.01,1129.39 L866.01,1129.40 L867.01,1129.41 L868.01,1129.43 L869.01,1129.44 L870.01,1129.45 L871.01,1129.46 L872.01,1129.47 L873.01,1129.48 L874.01,1129.50 L875.01,1129.51 L876.01,1129.52 L877.00,1129.53 L878.00,1129.54 L879.00,1129.55 L880.00,1129.57 L881.00,1129.58 L882.00,1129.59 L883.00,1129.60 L884.00,1129.61 L885.00,1129.63 L886.00,1129.64 L887.00,1129.65 L888.00,1129.66 L889.00,1129.67 L890.00,1129.69 L891.00,1129.70" fill="none" stroke="#2233ff" stroke-width="2.6" stroke-linejoin="round" stroke-linecap="butt" />
</svg>
</body></html>
